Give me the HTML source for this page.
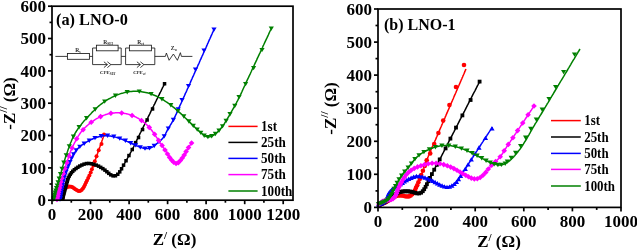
<!DOCTYPE html>
<html><head><meta charset="utf-8"><title>Nyquist plots</title>
<style>
html,body{margin:0;padding:0;background:#fff;}
svg{display:block;font-family:"Liberation Serif",serif;font-weight:bold;fill:#000;}
</style></head><body>
<svg width="637" height="250" viewBox="0 0 637 250">
<rect width="637" height="250" fill="#fff"/>
<path d="M62.5,199.0 L62.6,198.7 L62.6,198.3 L62.7,198.0 L62.7,197.7 L62.8,197.3 L62.8,197.0 L62.9,196.7 L63.0,196.3 L63.0,196.0 L63.1,195.7 L63.1,195.3 L63.2,195.0 L63.2,194.6 L63.3,194.3 L63.4,193.9 L63.4,193.6 L63.5,193.2 L63.5,192.9 L63.6,192.5 L63.6,192.2 L63.7,191.8 L63.8,191.4 L63.8,191.1 L63.9,190.7 L64.0,190.4 L64.1,190.1 L64.2,189.7 L64.4,189.4 L64.5,189.1 L64.7,188.9 L64.9,188.6 L65.1,188.4 L65.4,188.1 L65.7,187.9 L65.9,187.7 L66.2,187.6 L66.6,187.4 L66.9,187.3 L67.2,187.1 L67.5,187.0 L67.9,186.9 L68.2,186.8 L68.6,186.7 L68.9,186.6 L69.2,186.5 L69.6,186.5 L69.9,186.5 L70.2,186.5 L70.6,186.6 L70.9,186.6 L71.2,186.7 L71.6,186.8 L71.9,187.0 L72.2,187.1 L72.5,187.3 L72.8,187.4 L73.1,187.6 L73.4,187.8 L73.7,188.0 L74.0,188.2 L74.3,188.4 L74.6,188.6 L74.9,188.8 L75.1,189.0 L75.4,189.2 L75.7,189.5 L76.0,189.6 L76.2,189.8 L76.5,190.0 L76.8,190.2 L77.2,190.4 L77.5,190.5 L77.8,190.7 L78.1,190.8 L78.5,190.9 L78.8,191.0 L79.1,191.0 L79.5,191.0 L79.8,190.9 L80.1,190.8 L80.4,190.7 L80.7,190.5 L81.0,190.3 L81.3,190.1 L81.6,189.9 L81.9,189.6 L82.1,189.4 L82.4,189.1 L82.6,188.8 L82.8,188.6 L83.0,188.3 L83.2,188.0 L83.4,187.7 L83.6,187.4 L83.8,187.1 L84.0,186.8 L84.1,186.5 L84.3,186.2 L84.5,185.9 L84.6,185.6 L84.8,185.3 L84.9,185.0 L85.0,184.7 L85.2,184.4 L85.3,184.0 L85.5,183.7 L85.6,183.4 L85.7,183.1 L85.9,182.8 L86.0,182.5 L86.2,182.2 L86.3,181.8 L86.4,181.5 L86.6,181.2 L86.7,180.9 L86.9,180.6 L87.0,180.3 L87.2,180.0 L87.3,179.7 L87.5,179.4 L87.6,179.1 L87.8,178.7 L87.9,178.4 L88.1,178.1 L88.3,177.8 L88.4,177.5 L88.6,177.2 L88.7,176.9 L88.9,176.6 L89.0,176.3 L89.2,176.0 L89.3,175.6 L89.4,175.3 L89.6,175.0 L89.7,174.7 L89.9,174.4 L90.0,174.1 L90.2,173.8 L90.3,173.4 L90.4,173.1 L90.6,172.8 L90.7,172.5 L90.8,172.2 L91.0,171.9 L91.1,171.5 L91.2,171.2 L91.3,170.9 L91.5,170.6 L91.6,170.2 L91.7,169.9 L91.8,169.6 L92.0,169.3 L92.1,169.0 L92.2,168.6 L92.3,168.3 L92.4,168.0 L92.6,167.7 L92.7,167.3 L92.8,167.0 L92.9,166.7 L93.0,166.4 L93.1,166.0 L93.2,165.7 L93.4,165.4 L93.5,165.1 L93.6,164.7 L93.7,164.4 L93.8,164.1 L93.9,163.8 L94.0,163.4 L94.2,163.1 L94.3,162.8 L94.4,162.5 L94.5,162.1 L94.6,161.8 L94.7,161.5 L94.8,161.2 L95.0,160.8 L95.1,160.5 L95.2,160.2 L95.3,159.9 L95.4,159.5 L95.5,159.2 L95.6,158.9 L95.8,158.6 L95.9,158.2 L96.0,157.9 L96.1,157.6 L96.2,157.3 L96.3,156.9 L96.4,156.6 L96.6,156.3 L96.7,156.0 L96.8,155.6 L96.9,155.3 L97.0,155.0 L97.1,154.7 L97.2,154.3 L97.4,154.0 L97.5,153.7 L97.6,153.4 L97.7,153.0 L97.8,152.7 L97.9,152.4 L98.0,152.1 L98.2,151.7 L98.3,151.4 L98.4,151.1 L98.5,150.8 L98.6,150.4 L98.7,150.1 L98.8,149.8 L99.0,149.5 L99.1,149.1 L99.2,148.8 L99.3,148.5 L99.4,148.2 L99.5,147.8 L99.6,147.5 L99.8,147.2 L99.9,146.9 L100.0,146.5 L100.1,146.2 L100.2,145.9 L100.3,145.6 L100.4,145.2 L100.5,144.9 L100.7,144.6 L100.8,144.3 L100.9,143.9 L101.0,143.6 L101.1,143.3 L101.2,143.0 L101.3,142.6 L101.5,142.3 L101.6,142.0 L101.7,141.7 L101.8,141.3 L101.9,141.0 L102.0,140.7 L102.1,140.4 L102.3,140.0 L102.4,139.7 L102.5,139.4 L102.6,139.1 L102.7,138.7 L102.8,138.4 L102.9,138.1 L103.1,137.8 L103.2,137.4 L103.3,137.1 L103.4,136.8 L103.5,136.5 L103.6,136.1 L103.7,135.8 L103.9,135.5 L104.0,135.2 L104.1,134.8 L104.2,134.5" fill="none" stroke="#ff0000" stroke-width="1.5" stroke-linejoin="round"/>
<g><circle cx="62.5" cy="199.0" r="2.0" fill="#ff0000"/><circle cx="62.7" cy="197.8" r="2.0" fill="#ff0000"/><circle cx="62.9" cy="196.6" r="2.0" fill="#ff0000"/><circle cx="63.1" cy="195.4" r="2.0" fill="#ff0000"/><circle cx="63.3" cy="194.1" r="2.0" fill="#ff0000"/><circle cx="63.5" cy="192.8" r="2.0" fill="#ff0000"/><circle cx="63.7" cy="191.5" r="2.0" fill="#ff0000"/><circle cx="64.1" cy="190.2" r="2.0" fill="#ff0000"/><circle cx="64.6" cy="189.0" r="2.0" fill="#ff0000"/><circle cx="65.6" cy="188.0" r="2.0" fill="#ff0000"/><circle cx="66.8" cy="187.3" r="2.0" fill="#ff0000"/><circle cx="68.2" cy="186.8" r="2.0" fill="#ff0000"/><circle cx="69.7" cy="186.5" r="2.0" fill="#ff0000"/><circle cx="71.2" cy="186.7" r="2.0" fill="#ff0000"/><circle cx="72.6" cy="187.3" r="2.0" fill="#ff0000"/><circle cx="74.0" cy="188.2" r="2.0" fill="#ff0000"/><circle cx="75.3" cy="189.2" r="2.0" fill="#ff0000"/><circle cx="76.7" cy="190.1" r="2.0" fill="#ff0000"/><circle cx="78.3" cy="190.9" r="2.0" fill="#ff0000"/><circle cx="80.0" cy="190.9" r="2.0" fill="#ff0000"/><circle cx="81.6" cy="189.9" r="2.0" fill="#ff0000"/><circle cx="82.9" cy="188.4" r="2.0" fill="#ff0000"/><circle cx="84.0" cy="186.7" r="2.0" fill="#ff0000"/><circle cx="85.0" cy="184.7" r="2.0" fill="#ff0000"/><circle cx="86.0" cy="182.6" r="2.0" fill="#ff0000"/><circle cx="87.0" cy="180.4" r="2.0" fill="#ff0000"/><circle cx="88.2" cy="178.0" r="2.0" fill="#ff0000"/><circle cx="89.4" cy="175.4" r="2.0" fill="#ff0000"/><circle cx="90.7" cy="172.5" r="2.0" fill="#ff0000"/><circle cx="91.9" cy="169.3" r="2.0" fill="#ff0000"/><circle cx="93.3" cy="165.6" r="2.0" fill="#ff0000"/><circle cx="94.8" cy="161.3" r="2.0" fill="#ff0000"/><circle cx="96.5" cy="156.3" r="2.0" fill="#ff0000"/><circle cx="98.7" cy="150.3" r="2.0" fill="#ff0000"/><circle cx="104.0" cy="134.5" r="2.0" fill="#ff0000"/><circle cx="101.5" cy="144.0" r="2.0" fill="#ff0000"/></g>
<path d="M62.5,199.0 L62.7,198.3 L62.8,197.6 L63.0,196.9 L63.2,196.3 L63.3,195.6 L63.5,194.9 L63.7,194.2 L63.9,193.5 L64.0,192.8 L64.2,192.2 L64.4,191.5 L64.6,190.8 L64.8,190.1 L65.0,189.4 L65.2,188.8 L65.4,188.1 L65.6,187.4 L65.7,186.7 L65.9,186.1 L66.1,185.4 L66.3,184.7 L66.5,184.0 L66.7,183.3 L66.9,182.6 L67.1,182.0 L67.2,181.3 L67.4,180.6 L67.7,179.9 L67.9,179.3 L68.1,178.6 L68.4,177.9 L68.6,177.3 L68.9,176.6 L69.2,176.0 L69.6,175.4 L70.0,174.8 L70.3,174.2 L70.8,173.6 L71.2,173.0 L71.6,172.5 L72.1,172.0 L72.6,171.4 L73.1,170.9 L73.6,170.4 L74.1,170.0 L74.6,169.5 L75.2,169.1 L75.7,168.6 L76.3,168.2 L76.9,167.8 L77.5,167.4 L78.1,167.1 L78.7,166.7 L79.3,166.3 L79.9,166.0 L80.6,165.6 L81.2,165.3 L81.9,165.0 L82.5,164.7 L83.2,164.5 L83.8,164.2 L84.5,164.0 L85.2,163.8 L85.9,163.7 L86.6,163.6 L87.3,163.5 L88.0,163.4 L88.7,163.4 L89.4,163.5 L90.1,163.5 L90.8,163.6 L91.5,163.7 L92.2,163.9 L92.9,164.0 L93.5,164.2 L94.2,164.5 L94.9,164.7 L95.6,164.9 L96.3,165.2 L96.9,165.5 L97.6,165.8 L98.3,166.1 L98.9,166.4 L99.5,166.7 L100.2,167.0 L100.8,167.4 L101.4,167.7 L102.0,168.1 L102.6,168.5 L103.2,168.9 L103.8,169.3 L104.3,169.7 L104.9,170.1 L105.4,170.5 L106.0,171.0 L106.5,171.4 L107.0,171.9 L107.6,172.4 L108.1,172.8 L108.6,173.3 L109.2,173.7 L109.7,174.2 L110.3,174.6 L110.9,175.0 L111.6,175.3 L112.2,175.6 L112.9,175.8 L113.6,176.0 L114.3,176.0 L115.0,175.9 L115.7,175.7 L116.3,175.4 L116.9,175.0 L117.5,174.5 L118.0,174.0 L118.5,173.5 L119.0,172.9 L119.4,172.4 L119.8,171.8 L120.2,171.2 L120.6,170.6 L120.9,170.0 L121.3,169.4 L121.6,168.8 L121.9,168.1 L122.3,167.5 L122.6,166.9 L122.9,166.3 L123.3,165.7 L123.6,165.1 L123.9,164.4 L124.3,163.8 L124.6,163.2 L125.0,162.6 L125.3,162.0 L125.7,161.4 L126.0,160.7 L126.4,160.1 L126.7,159.5 L127.1,158.9 L127.4,158.3 L127.8,157.7 L128.1,157.1 L128.5,156.4 L128.8,155.8 L129.1,155.2 L129.5,154.6 L129.8,154.0 L130.2,153.4 L130.5,152.7 L130.9,152.1 L131.2,151.5 L131.5,150.9 L131.9,150.3 L132.2,149.6 L132.5,149.0 L132.8,148.4 L133.1,147.8 L133.5,147.1 L133.8,146.5 L134.1,145.9 L134.4,145.2 L134.7,144.6 L135.0,144.0 L135.3,143.3 L135.6,142.7 L135.9,142.1 L136.2,141.4 L136.5,140.8 L136.8,140.1 L137.2,139.5 L137.5,138.9 L137.8,138.2 L138.1,137.6 L138.4,137.0 L138.7,136.3 L139.0,135.7 L139.3,135.1 L139.6,134.4 L139.9,133.8 L140.2,133.2 L140.6,132.5 L140.9,131.9 L141.2,131.3 L141.5,130.6 L141.8,130.0 L142.1,129.4 L142.4,128.7 L142.7,128.1 L143.1,127.5 L143.4,126.8 L143.7,126.2 L144.0,125.6 L144.3,125.0 L144.6,124.3 L144.9,123.7 L145.2,123.1 L145.5,122.4 L145.9,121.8 L146.2,121.2 L146.5,120.5 L146.8,119.9 L147.1,119.3 L147.4,118.6 L147.7,118.0 L148.0,117.4 L148.3,116.7 L148.6,116.1 L149.0,115.5 L149.3,114.8 L149.6,114.2 L149.9,113.6 L150.2,112.9 L150.5,112.3 L150.8,111.7 L151.1,111.0 L151.4,110.4 L151.8,109.8 L152.1,109.1 L152.4,108.5 L152.7,107.9 L153.0,107.2 L153.3,106.6 L153.6,106.0 L153.9,105.3 L154.2,104.7 L154.6,104.1 L154.9,103.4 L155.2,102.8 L155.5,102.2 L155.8,101.5 L156.1,100.9 L156.4,100.3 L156.7,99.6 L157.0,99.0 L157.4,98.4 L157.7,97.7 L158.0,97.1 L158.3,96.5 L158.6,95.8 L158.9,95.2 L159.2,94.6 L159.5,93.9 L159.8,93.3 L160.1,92.7 L160.5,92.0 L160.8,91.4 L161.1,90.8 L161.4,90.1 L161.7,89.5 L162.0,88.9 L162.3,88.2 L162.6,87.6 L162.9,87.0 L163.3,86.3 L163.6,85.7 L163.9,85.1 L164.2,84.4 L164.5,83.8" fill="none" stroke="#000000" stroke-width="1.5" stroke-linejoin="round"/>
<g><rect x="60.8" y="197.2" width="3.5" height="3.5" fill="#000000"/><rect x="61.1" y="195.8" width="3.5" height="3.5" fill="#000000"/><rect x="61.5" y="194.3" width="3.5" height="3.5" fill="#000000"/><rect x="61.9" y="192.8" width="3.5" height="3.5" fill="#000000"/><rect x="62.3" y="191.2" width="3.5" height="3.5" fill="#000000"/><rect x="62.7" y="189.7" width="3.5" height="3.5" fill="#000000"/><rect x="63.1" y="188.1" width="3.5" height="3.5" fill="#000000"/><rect x="63.6" y="186.4" width="3.5" height="3.5" fill="#000000"/><rect x="64.0" y="184.8" width="3.5" height="3.5" fill="#000000"/><rect x="64.5" y="183.1" width="3.5" height="3.5" fill="#000000"/><rect x="65.0" y="181.4" width="3.5" height="3.5" fill="#000000"/><rect x="65.5" y="179.6" width="3.5" height="3.5" fill="#000000"/><rect x="66.0" y="177.9" width="3.5" height="3.5" fill="#000000"/><rect x="66.6" y="176.1" width="3.5" height="3.5" fill="#000000"/><rect x="67.5" y="174.3" width="3.5" height="3.5" fill="#000000"/><rect x="68.5" y="172.6" width="3.5" height="3.5" fill="#000000"/><rect x="69.7" y="171.0" width="3.5" height="3.5" fill="#000000"/><rect x="71.0" y="169.5" width="3.5" height="3.5" fill="#000000"/><rect x="72.6" y="168.0" width="3.5" height="3.5" fill="#000000"/><rect x="74.3" y="166.7" width="3.5" height="3.5" fill="#000000"/><rect x="76.1" y="165.5" width="3.5" height="3.5" fill="#000000"/><rect x="78.0" y="164.3" width="3.5" height="3.5" fill="#000000"/><rect x="80.1" y="163.3" width="3.5" height="3.5" fill="#000000"/><rect x="82.3" y="162.4" width="3.5" height="3.5" fill="#000000"/><rect x="84.7" y="161.8" width="3.5" height="3.5" fill="#000000"/><rect x="87.2" y="161.7" width="3.5" height="3.5" fill="#000000"/><rect x="89.7" y="162.0" width="3.5" height="3.5" fill="#000000"/><rect x="92.1" y="162.6" width="3.5" height="3.5" fill="#000000"/><rect x="94.5" y="163.4" width="3.5" height="3.5" fill="#000000"/><rect x="96.8" y="164.4" width="3.5" height="3.5" fill="#000000"/><rect x="99.0" y="165.6" width="3.5" height="3.5" fill="#000000"/><rect x="101.1" y="166.9" width="3.5" height="3.5" fill="#000000"/><rect x="103.2" y="168.4" width="3.5" height="3.5" fill="#000000"/><rect x="105.1" y="170.0" width="3.5" height="3.5" fill="#000000"/><rect x="107.0" y="171.6" width="3.5" height="3.5" fill="#000000"/><rect x="109.0" y="173.1" width="3.5" height="3.5" fill="#000000"/><rect x="111.3" y="174.1" width="3.5" height="3.5" fill="#000000"/><rect x="113.7" y="174.0" width="3.5" height="3.5" fill="#000000"/><rect x="116.0" y="172.5" width="3.5" height="3.5" fill="#000000"/><rect x="118.0" y="170.1" width="3.5" height="3.5" fill="#000000"/><rect x="119.8" y="167.0" width="3.5" height="3.5" fill="#000000"/><rect x="121.8" y="163.4" width="3.5" height="3.5" fill="#000000"/><rect x="124.3" y="159.0" width="3.5" height="3.5" fill="#000000"/><rect x="127.2" y="153.8" width="3.5" height="3.5" fill="#000000"/><rect x="130.5" y="147.8" width="3.5" height="3.5" fill="#000000"/><rect x="133.9" y="140.9" width="3.5" height="3.5" fill="#000000"/><rect x="162.8" y="82.0" width="3.5" height="3.5" fill="#000000"/><rect x="150.8" y="107.2" width="3.5" height="3.5" fill="#000000"/><rect x="145.4" y="118.2" width="3.5" height="3.5" fill="#000000"/><rect x="140.8" y="127.8" width="3.5" height="3.5" fill="#000000"/><rect x="136.8" y="135.8" width="3.5" height="3.5" fill="#000000"/></g>
<path d="M60.0,199.5 L60.2,198.5 L60.3,197.5 L60.5,196.4 L60.7,195.4 L60.9,194.4 L61.0,193.4 L61.2,192.3 L61.4,191.3 L61.6,190.3 L61.8,189.3 L62.0,188.3 L62.1,187.2 L62.3,186.2 L62.5,185.2 L62.7,184.2 L62.9,183.1 L63.2,182.1 L63.4,181.1 L63.6,180.1 L63.9,179.1 L64.1,178.1 L64.4,177.1 L64.7,176.1 L65.0,175.1 L65.3,174.1 L65.6,173.1 L65.9,172.2 L66.3,171.2 L66.6,170.2 L67.0,169.2 L67.4,168.3 L67.8,167.3 L68.2,166.4 L68.6,165.4 L69.0,164.4 L69.4,163.5 L69.8,162.5 L70.2,161.5 L70.6,160.6 L71.0,159.6 L71.5,158.6 L71.9,157.7 L72.3,156.7 L72.8,155.8 L73.3,154.9 L73.8,154.0 L74.3,153.1 L74.9,152.2 L75.5,151.4 L76.1,150.5 L76.7,149.7 L77.4,149.0 L78.1,148.2 L78.9,147.5 L79.7,146.8 L80.5,146.2 L81.3,145.5 L82.1,144.9 L83.0,144.3 L83.9,143.7 L84.8,143.2 L85.6,142.6 L86.5,142.1 L87.4,141.5 L88.4,141.0 L89.3,140.6 L90.2,140.1 L91.1,139.6 L92.1,139.2 L93.0,138.8 L94.0,138.4 L95.0,138.0 L95.9,137.7 L96.9,137.3 L97.9,137.0 L98.9,136.7 L99.9,136.4 L101.0,136.2 L102.0,136.0 L103.0,135.9 L104.0,135.8 L105.1,135.7 L106.1,135.7 L107.1,135.7 L108.2,135.8 L109.2,135.9 L110.3,136.0 L111.3,136.2 L112.3,136.4 L113.3,136.6 L114.3,136.8 L115.4,137.1 L116.4,137.4 L117.4,137.7 L118.4,138.0 L119.3,138.3 L120.3,138.7 L121.3,139.0 L122.3,139.4 L123.2,139.8 L124.2,140.2 L125.1,140.6 L126.1,141.0 L127.0,141.4 L128.0,141.8 L128.9,142.2 L129.9,142.7 L130.8,143.1 L131.8,143.5 L132.7,144.0 L133.7,144.4 L134.6,144.8 L135.6,145.3 L136.5,145.7 L137.5,146.1 L138.4,146.5 L139.4,146.9 L140.3,147.3 L141.3,147.6 L142.3,147.9 L143.3,148.2 L144.4,148.4 L145.4,148.5 L146.4,148.6 L147.5,148.6 L148.5,148.5 L149.5,148.2 L150.5,147.9 L151.5,147.5 L152.4,147.1 L153.3,146.5 L154.1,145.9 L154.9,145.3 L155.7,144.6 L156.5,143.9 L157.3,143.2 L158.1,142.5 L159.0,141.9 L159.8,141.2 L160.6,140.5 L161.3,139.8 L162.0,139.1 L162.7,138.3 L163.4,137.5 L163.9,136.7 L164.5,135.8 L165.0,134.9 L165.5,134.0 L165.9,133.0 L166.4,132.1 L166.9,131.2 L167.3,130.2 L167.8,129.3 L168.4,128.4 L168.9,127.5 L169.4,126.6 L170.0,125.7 L170.5,124.9 L171.1,124.0 L171.6,123.1 L172.1,122.2 L172.6,121.3 L173.1,120.4 L173.6,119.5 L174.1,118.5 L174.5,117.6 L175.0,116.7 L175.4,115.7 L175.8,114.8 L176.3,113.8 L176.7,112.9 L177.1,111.9 L177.5,111.0 L178.0,110.0 L178.4,109.1 L178.8,108.1 L179.2,107.2 L179.7,106.2 L180.1,105.3 L180.5,104.4 L181.0,103.4 L181.4,102.5 L181.8,101.5 L182.2,100.6 L182.7,99.6 L183.1,98.7 L183.5,97.7 L183.9,96.8 L184.4,95.8 L184.8,94.9 L185.2,93.9 L185.6,93.0 L186.1,92.1 L186.5,91.1 L186.9,90.2 L187.3,89.2 L187.7,88.3 L188.2,87.3 L188.6,86.4 L189.0,85.4 L189.4,84.5 L189.9,83.5 L190.3,82.6 L190.7,81.6 L191.1,80.7 L191.6,79.7 L192.0,78.8 L192.4,77.8 L192.8,76.9 L193.3,75.9 L193.7,75.0 L194.1,74.0 L194.5,73.1 L194.9,72.1 L195.4,71.2 L195.8,70.3 L196.2,69.3 L196.6,68.4 L197.1,67.4 L197.5,66.5 L197.9,65.5 L198.3,64.6 L198.8,63.6 L199.2,62.7 L199.6,61.7 L200.0,60.8 L200.4,59.8 L200.9,58.9 L201.3,57.9 L201.7,57.0 L202.1,56.0 L202.6,55.1 L203.0,54.1 L203.4,53.2 L203.8,52.2 L204.3,51.3 L204.7,50.3 L205.1,49.4 L205.5,48.5 L206.0,47.5 L206.4,46.6 L206.8,45.6 L207.2,44.7 L207.6,43.7 L208.1,42.8 L208.5,41.8 L208.9,40.9 L209.3,39.9 L209.8,39.0 L210.2,38.0 L210.6,37.1 L211.0,36.1 L211.5,35.2 L211.9,34.2 L212.3,33.3 L212.7,32.3 L213.2,31.4 L213.6,30.4 L214.0,29.5" fill="none" stroke="#0000ff" stroke-width="1.5" stroke-linejoin="round"/>
<g><path d="M57.4,197.4 L62.6,197.4 L60.0,201.8Z" fill="#0000ff"/><path d="M57.7,195.9 L62.9,195.9 L60.3,200.3Z" fill="#0000ff"/><path d="M57.9,194.3 L63.1,194.3 L60.5,198.7Z" fill="#0000ff"/><path d="M58.2,192.6 L63.4,192.6 L60.8,197.1Z" fill="#0000ff"/><path d="M58.5,190.9 L63.7,190.9 L61.1,195.3Z" fill="#0000ff"/><path d="M58.8,189.1 L64.0,189.1 L61.4,193.5Z" fill="#0000ff"/><path d="M59.2,187.1 L64.4,187.1 L61.8,191.5Z" fill="#0000ff"/><path d="M59.6,185.1 L64.8,185.1 L62.2,189.5Z" fill="#0000ff"/><path d="M60.0,182.9 L65.2,182.9 L62.6,187.3Z" fill="#0000ff"/><path d="M60.4,180.6 L65.6,180.6 L63.0,185.0Z" fill="#0000ff"/><path d="M61.0,178.2 L66.2,178.2 L63.6,182.6Z" fill="#0000ff"/><path d="M61.7,175.5 L66.9,175.5 L64.3,179.9Z" fill="#0000ff"/><path d="M62.5,172.7 L67.7,172.7 L65.1,177.1Z" fill="#0000ff"/><path d="M63.5,169.8 L68.7,169.8 L66.1,174.2Z" fill="#0000ff"/><path d="M64.6,166.6 L69.8,166.6 L67.2,171.1Z" fill="#0000ff"/><path d="M65.9,163.4 L71.1,163.4 L68.5,167.8Z" fill="#0000ff"/><path d="M67.4,159.9 L72.6,159.9 L70.0,164.3Z" fill="#0000ff"/><path d="M69.0,156.2 L74.2,156.2 L71.6,160.6Z" fill="#0000ff"/><path d="M71.0,152.3 L76.2,152.3 L73.6,156.7Z" fill="#0000ff"/><path d="M73.6,148.3 L78.8,148.3 L76.2,152.7Z" fill="#0000ff"/><path d="M77.2,144.7 L82.4,144.7 L79.8,149.1Z" fill="#0000ff"/><path d="M81.6,141.4 L86.8,141.4 L84.2,145.9Z" fill="#0000ff"/><path d="M86.7,138.5 L91.9,138.5 L89.3,142.9Z" fill="#0000ff"/><path d="M92.4,135.9 L97.6,135.9 L95.0,140.3Z" fill="#0000ff"/><path d="M98.6,134.1 L103.8,134.1 L101.2,138.5Z" fill="#0000ff"/><path d="M105.0,133.6 L110.2,133.6 L107.6,138.1Z" fill="#0000ff"/><path d="M111.2,134.6 L116.4,134.6 L113.8,139.0Z" fill="#0000ff"/><path d="M117.1,136.4 L122.3,136.4 L119.7,140.8Z" fill="#0000ff"/><path d="M122.8,138.6 L128.0,138.6 L125.4,143.0Z" fill="#0000ff"/><path d="M128.1,140.9 L133.3,140.9 L130.7,145.4Z" fill="#0000ff"/><path d="M133.0,143.2 L138.2,143.2 L135.6,147.6Z" fill="#0000ff"/><path d="M137.7,145.2 L142.9,145.2 L140.3,149.6Z" fill="#0000ff"/><path d="M142.4,146.4 L147.6,146.4 L145.0,150.8Z" fill="#0000ff"/><path d="M147.0,146.1 L152.2,146.1 L149.6,150.6Z" fill="#0000ff"/><path d="M151.6,143.8 L156.8,143.8 L154.2,148.2Z" fill="#0000ff"/><path d="M156.4,139.8 L161.6,139.8 L159.0,144.2Z" fill="#0000ff"/><path d="M161.6,134.2 L166.8,134.2 L164.2,138.6Z" fill="#0000ff"/><path d="M165.7,126.4 L170.9,126.4 L168.3,130.8Z" fill="#0000ff"/><path d="M170.8,117.8 L176.0,117.8 L173.4,122.2Z" fill="#0000ff"/><path d="M175.6,107.3 L180.8,107.3 L178.2,111.7Z" fill="#0000ff"/><path d="M211.4,27.4 L216.6,27.4 L214.0,31.8Z" fill="#0000ff"/><path d="M201.4,48.4 L206.6,48.4 L204.0,52.8Z" fill="#0000ff"/><path d="M192.9,67.4 L198.1,67.4 L195.5,71.8Z" fill="#0000ff"/><path d="M185.9,83.9 L191.1,83.9 L188.5,88.3Z" fill="#0000ff"/><path d="M179.4,97.9 L184.6,97.9 L182.0,102.3Z" fill="#0000ff"/></g>
<path d="M57.0,199.5 L57.2,198.7 L57.4,197.8 L57.5,197.0 L57.7,196.1 L57.9,195.3 L58.1,194.5 L58.3,193.6 L58.4,192.8 L58.6,192.0 L58.8,191.1 L59.0,190.3 L59.2,189.4 L59.4,188.6 L59.6,187.8 L59.7,186.9 L59.9,186.1 L60.1,185.3 L60.3,184.4 L60.5,183.6 L60.7,182.8 L60.9,181.9 L61.1,181.1 L61.4,180.3 L61.6,179.4 L61.8,178.6 L62.0,177.8 L62.2,177.0 L62.5,176.1 L62.7,175.3 L63.0,174.5 L63.2,173.7 L63.5,172.8 L63.7,172.0 L64.0,171.2 L64.2,170.4 L64.5,169.6 L64.8,168.8 L65.0,167.9 L65.3,167.1 L65.6,166.3 L65.8,165.5 L66.1,164.7 L66.4,163.9 L66.6,163.1 L66.9,162.2 L67.2,161.4 L67.5,160.6 L67.7,159.8 L68.0,159.0 L68.3,158.2 L68.5,157.4 L68.8,156.5 L69.1,155.7 L69.4,154.9 L69.6,154.1 L69.9,153.3 L70.2,152.5 L70.5,151.7 L70.8,150.9 L71.2,150.1 L71.5,149.3 L71.8,148.5 L72.2,147.7 L72.5,147.0 L72.9,146.2 L73.3,145.4 L73.6,144.6 L74.0,143.9 L74.4,143.1 L74.8,142.3 L75.2,141.6 L75.6,140.8 L76.0,140.1 L76.4,139.3 L76.8,138.6 L77.3,137.8 L77.7,137.1 L78.1,136.3 L78.6,135.6 L79.1,134.9 L79.5,134.2 L80.0,133.5 L80.5,132.8 L81.0,132.1 L81.6,131.4 L82.1,130.8 L82.7,130.1 L83.2,129.5 L83.8,128.8 L84.4,128.2 L85.0,127.6 L85.7,127.0 L86.3,126.4 L86.9,125.9 L87.6,125.3 L88.2,124.7 L88.9,124.2 L89.5,123.6 L90.2,123.1 L90.9,122.6 L91.6,122.1 L92.3,121.6 L93.0,121.1 L93.7,120.6 L94.4,120.1 L95.1,119.6 L95.8,119.2 L96.6,118.7 L97.3,118.3 L98.1,117.9 L98.8,117.5 L99.6,117.1 L100.4,116.7 L101.2,116.4 L101.9,116.0 L102.7,115.7 L103.5,115.4 L104.3,115.1 L105.2,114.8 L106.0,114.5 L106.8,114.3 L107.6,114.0 L108.5,113.8 L109.3,113.6 L110.1,113.5 L111.0,113.3 L111.8,113.2 L112.7,113.1 L113.5,113.0 L114.4,112.9 L115.3,112.8 L116.1,112.8 L117.0,112.8 L117.8,112.8 L118.7,112.8 L119.6,112.8 L120.4,112.9 L121.3,113.0 L122.1,113.0 L123.0,113.1 L123.8,113.3 L124.7,113.4 L125.5,113.6 L126.4,113.7 L127.2,113.9 L128.0,114.1 L128.9,114.4 L129.7,114.6 L130.5,114.9 L131.3,115.2 L132.1,115.5 L132.9,115.8 L133.7,116.1 L134.5,116.5 L135.3,116.8 L136.1,117.2 L136.8,117.6 L137.6,118.0 L138.3,118.4 L139.1,118.9 L139.8,119.3 L140.5,119.8 L141.2,120.3 L141.9,120.7 L142.6,121.3 L143.3,121.8 L144.0,122.3 L144.7,122.9 L145.3,123.4 L145.9,124.0 L146.6,124.6 L147.2,125.2 L147.8,125.8 L148.4,126.4 L149.0,127.0 L149.5,127.7 L150.1,128.3 L150.6,129.0 L151.2,129.7 L151.7,130.3 L152.2,131.0 L152.7,131.7 L153.2,132.4 L153.7,133.1 L154.2,133.8 L154.7,134.5 L155.2,135.2 L155.7,136.0 L156.1,136.7 L156.6,137.4 L157.1,138.1 L157.6,138.8 L158.0,139.5 L158.5,140.2 L159.0,141.0 L159.4,141.7 L159.9,142.4 L160.4,143.1 L160.9,143.8 L161.4,144.5 L161.8,145.2 L162.3,145.9 L162.8,146.6 L163.3,147.4 L163.8,148.1 L164.2,148.8 L164.7,149.5 L165.1,150.2 L165.6,151.0 L166.1,151.7 L166.5,152.4 L167.0,153.2 L167.4,153.9 L167.9,154.6 L168.3,155.4 L168.8,156.1 L169.2,156.8 L169.7,157.5 L170.2,158.2 L170.6,158.9 L171.1,159.6 L171.7,160.2 L172.2,160.9 L172.8,161.5 L173.5,162.1 L174.2,162.7 L175.0,163.2 L175.8,163.5 L176.6,163.6 L177.4,163.4 L178.1,162.9 L178.8,162.2 L179.4,161.6 L180.0,160.9 L180.6,160.3 L181.1,159.6 L181.7,158.9 L182.1,158.3 L182.6,157.6 L183.1,156.9 L183.5,156.2 L184.0,155.4 L184.4,154.7 L184.8,153.9 L185.2,153.2 L185.6,152.4 L186.0,151.7 L186.5,150.9 L186.9,150.2 L187.3,149.4 L187.8,148.7 L188.2,148.0 L188.7,147.2 L189.2,146.5 L189.7,145.8 L190.1,145.1 L190.6,144.4 L191.1,143.7 L191.6,143.0" fill="none" stroke="#ff00ff" stroke-width="1.5" stroke-linejoin="round"/>
<g><path d="M54.2,199.5 L57.0,196.7 L59.8,199.5 L57.0,202.3Z" fill="#ff00ff"/><path d="M54.5,198.0 L57.3,195.2 L60.1,198.0 L57.3,200.8Z" fill="#ff00ff"/><path d="M54.9,196.3 L57.7,193.5 L60.5,196.3 L57.7,199.1Z" fill="#ff00ff"/><path d="M55.3,194.5 L58.1,191.7 L60.9,194.5 L58.1,197.3Z" fill="#ff00ff"/><path d="M55.7,192.5 L58.5,189.7 L61.3,192.5 L58.5,195.3Z" fill="#ff00ff"/><path d="M56.2,190.3 L59.0,187.5 L61.8,190.3 L59.0,193.1Z" fill="#ff00ff"/><path d="M56.7,187.9 L59.5,185.1 L62.3,187.9 L59.5,190.7Z" fill="#ff00ff"/><path d="M57.4,185.2 L60.2,182.4 L63.0,185.2 L60.2,188.0Z" fill="#ff00ff"/><path d="M58.1,182.0 L60.9,179.2 L63.7,182.0 L60.9,184.8Z" fill="#ff00ff"/><path d="M59.1,178.3 L61.9,175.5 L64.7,178.3 L61.9,181.1Z" fill="#ff00ff"/><path d="M60.4,173.8 L63.2,171.0 L66.0,173.8 L63.2,176.6Z" fill="#ff00ff"/><path d="M62.0,168.6 L64.8,165.8 L67.6,168.6 L64.8,171.4Z" fill="#ff00ff"/><path d="M64.0,162.7 L66.8,159.9 L69.6,162.7 L66.8,165.5Z" fill="#ff00ff"/><path d="M66.2,155.9 L69.0,153.1 L71.8,155.9 L69.0,158.7Z" fill="#ff00ff"/><path d="M69.3,148.0 L72.1,145.2 L74.9,148.0 L72.1,150.8Z" fill="#ff00ff"/><path d="M73.9,138.7 L76.7,135.9 L79.5,138.7 L76.7,141.5Z" fill="#ff00ff"/><path d="M80.3,129.7 L83.1,126.9 L85.9,129.7 L83.1,132.5Z" fill="#ff00ff"/><path d="M88.4,122.3 L91.2,119.5 L94.0,122.3 L91.2,125.1Z" fill="#ff00ff"/><path d="M97.8,116.6 L100.6,113.8 L103.4,116.6 L100.6,119.4Z" fill="#ff00ff"/><path d="M108.1,113.3 L110.9,110.5 L113.7,113.3 L110.9,116.1Z" fill="#ff00ff"/><path d="M118.9,113.0 L121.7,110.2 L124.5,113.0 L121.7,115.8Z" fill="#ff00ff"/><path d="M129.3,115.5 L132.1,112.7 L134.9,115.5 L132.1,118.3Z" fill="#ff00ff"/><path d="M138.7,120.5 L141.5,117.7 L144.3,120.5 L141.5,123.3Z" fill="#ff00ff"/><path d="M146.5,127.4 L149.3,124.6 L152.1,127.4 L149.3,130.2Z" fill="#ff00ff"/><path d="M151.8,134.3 L154.6,131.5 L157.4,134.3 L154.6,137.1Z" fill="#ff00ff"/><path d="M155.8,140.4 L158.6,137.6 L161.4,140.4 L158.6,143.2Z" fill="#ff00ff"/><path d="M159.3,145.5 L162.1,142.7 L164.9,145.5 L162.1,148.3Z" fill="#ff00ff"/><path d="M162.2,150.0 L165.0,147.2 L167.8,150.0 L165.0,152.8Z" fill="#ff00ff"/><path d="M164.7,154.0 L167.5,151.2 L170.3,154.0 L167.5,156.8Z" fill="#ff00ff"/><path d="M166.8,157.4 L169.6,154.6 L172.4,157.4 L169.6,160.2Z" fill="#ff00ff"/><path d="M168.8,160.1 L171.6,157.3 L174.4,160.1 L171.6,162.9Z" fill="#ff00ff"/><path d="M170.9,162.3 L173.7,159.5 L176.5,162.3 L173.7,165.1Z" fill="#ff00ff"/><path d="M173.3,163.5 L176.1,160.7 L178.9,163.5 L176.1,166.3Z" fill="#ff00ff"/><path d="M175.6,162.6 L178.4,159.8 L181.2,162.6 L178.4,165.4Z" fill="#ff00ff"/><path d="M177.6,160.5 L180.4,157.7 L183.2,160.5 L180.4,163.3Z" fill="#ff00ff"/><path d="M179.5,158.0 L182.3,155.2 L185.1,158.0 L182.3,160.8Z" fill="#ff00ff"/><path d="M181.4,155.1 L184.2,152.3 L187.0,155.1 L184.2,157.9Z" fill="#ff00ff"/><path d="M183.3,151.6 L186.1,148.8 L188.9,151.6 L186.1,154.4Z" fill="#ff00ff"/><path d="M185.7,147.6 L188.5,144.8 L191.3,147.6 L188.5,150.4Z" fill="#ff00ff"/><path d="M188.8,143.0 L191.6,140.2 L194.4,143.0 L191.6,145.8Z" fill="#ff00ff"/></g>
<path d="M53.5,199.5 L53.8,198.1 L54.2,196.8 L54.5,195.4 L54.9,194.1 L55.2,192.7 L55.6,191.4 L55.9,190.0 L56.3,188.7 L56.7,187.3 L57.1,186.0 L57.5,184.7 L57.8,183.3 L58.2,182.0 L58.6,180.6 L59.0,179.3 L59.4,178.0 L59.8,176.6 L60.2,175.3 L60.6,173.9 L61.0,172.6 L61.4,171.2 L61.7,169.9 L62.1,168.6 L62.5,167.2 L62.9,165.9 L63.3,164.5 L63.6,163.2 L64.0,161.8 L64.5,160.5 L64.9,159.2 L65.3,157.9 L65.7,156.5 L66.2,155.2 L66.6,153.9 L67.1,152.6 L67.6,151.2 L68.0,149.9 L68.5,148.6 L69.0,147.3 L69.4,146.0 L69.9,144.7 L70.4,143.3 L71.0,142.0 L71.5,140.7 L72.0,139.5 L72.6,138.2 L73.2,136.9 L73.8,135.7 L74.5,134.4 L75.2,133.2 L75.9,132.0 L76.6,130.8 L77.4,129.7 L78.2,128.5 L79.0,127.4 L79.8,126.3 L80.7,125.2 L81.5,124.1 L82.4,123.0 L83.3,121.9 L84.2,120.8 L85.2,119.8 L86.1,118.8 L87.0,117.7 L88.0,116.7 L88.9,115.7 L89.9,114.7 L90.9,113.7 L91.8,112.6 L92.8,111.6 L93.8,110.7 L94.8,109.7 L95.8,108.7 L96.8,107.8 L97.9,106.8 L98.9,105.9 L100.0,105.0 L101.1,104.1 L102.2,103.3 L103.3,102.5 L104.5,101.7 L105.6,100.9 L106.8,100.2 L108.0,99.4 L109.2,98.7 L110.5,98.1 L111.7,97.4 L112.9,96.8 L114.2,96.2 L115.5,95.6 L116.8,95.1 L118.1,94.6 L119.4,94.1 L120.7,93.6 L122.1,93.2 L123.4,92.9 L124.8,92.5 L126.1,92.2 L127.5,92.0 L128.9,91.7 L130.3,91.6 L131.7,91.4 L133.1,91.3 L134.5,91.3 L135.9,91.3 L137.3,91.3 L138.7,91.4 L140.1,91.5 L141.5,91.7 L142.8,91.9 L144.2,92.2 L145.6,92.5 L147.0,92.8 L148.3,93.1 L149.7,93.5 L151.0,94.0 L152.3,94.5 L153.6,95.0 L154.9,95.5 L156.2,96.0 L157.5,96.6 L158.7,97.3 L159.9,97.9 L161.2,98.6 L162.4,99.3 L163.6,100.0 L164.7,100.8 L165.9,101.6 L167.1,102.3 L168.2,103.2 L169.3,104.0 L170.4,104.8 L171.5,105.7 L172.6,106.6 L173.7,107.4 L174.8,108.3 L175.8,109.2 L176.9,110.2 L178.0,111.1 L179.0,112.0 L180.0,112.9 L181.1,113.9 L182.1,114.8 L183.1,115.8 L184.1,116.7 L185.1,117.7 L186.2,118.7 L187.1,119.6 L188.1,120.6 L189.1,121.6 L190.1,122.6 L191.1,123.6 L192.1,124.6 L193.1,125.6 L194.1,126.5 L195.1,127.5 L196.1,128.4 L197.1,129.3 L198.1,130.3 L199.2,131.2 L200.3,132.2 L201.4,133.2 L202.5,134.2 L203.7,135.1 L204.9,135.9 L206.1,136.5 L207.3,136.9 L208.6,137.0 L209.9,136.8 L211.2,136.4 L212.5,135.8 L213.8,135.1 L215.0,134.2 L216.2,133.2 L217.3,132.3 L218.4,131.2 L219.4,130.2 L220.3,129.1 L221.2,128.1 L222.0,127.0 L222.9,125.8 L223.6,124.7 L224.4,123.6 L225.1,122.4 L225.9,121.2 L226.6,120.1 L227.3,118.9 L228.0,117.7 L228.7,116.5 L229.4,115.3 L230.1,114.1 L230.8,112.9 L231.5,111.6 L232.2,110.4 L232.9,109.2 L233.6,108.0 L234.3,106.7 L234.9,105.5 L235.6,104.3 L236.3,103.1 L236.9,101.8 L237.6,100.6 L238.2,99.4 L238.8,98.1 L239.5,96.9 L240.1,95.6 L240.7,94.4 L241.3,93.1 L241.9,91.8 L242.4,90.6 L243.0,89.3 L243.6,88.0 L244.2,86.7 L244.8,85.5 L245.4,84.2 L245.9,82.9 L246.5,81.7 L247.1,80.4 L247.7,79.1 L248.3,77.9 L248.9,76.6 L249.5,75.3 L250.1,74.1 L250.7,72.8 L251.3,71.5 L251.8,70.3 L252.4,69.0 L253.0,67.7 L253.6,66.5 L254.2,65.2 L254.8,63.9 L255.4,62.7 L256.0,61.4 L256.6,60.1 L257.1,58.9 L257.7,57.6 L258.3,56.4 L258.9,55.1 L259.5,53.8 L260.1,52.6 L260.7,51.3 L261.3,50.0 L261.9,48.8 L262.5,47.5 L263.0,46.2 L263.6,45.0 L264.2,43.7 L264.8,42.4 L265.4,41.2 L266.0,39.9 L266.6,38.6 L267.2,37.4 L267.8,36.1 L268.4,34.8 L268.9,33.6 L269.5,32.3 L270.1,31.0 L270.7,29.8 L271.3,28.5" fill="none" stroke="#008000" stroke-width="1.5" stroke-linejoin="round"/>
<g><path d="M50.9,197.4 L56.1,197.4 L53.5,201.8Z" fill="#008000"/><path d="M51.3,195.9 L56.5,195.9 L53.9,200.3Z" fill="#008000"/><path d="M51.7,194.3 L56.9,194.3 L54.3,198.7Z" fill="#008000"/><path d="M52.1,192.5 L57.3,192.5 L54.7,196.9Z" fill="#008000"/><path d="M52.6,190.6 L57.8,190.6 L55.2,195.0Z" fill="#008000"/><path d="M53.2,188.5 L58.4,188.5 L55.8,192.9Z" fill="#008000"/><path d="M53.9,186.1 L59.1,186.1 L56.5,190.5Z" fill="#008000"/><path d="M54.6,183.4 L59.8,183.4 L57.2,187.8Z" fill="#008000"/><path d="M55.5,180.3 L60.7,180.3 L58.1,184.7Z" fill="#008000"/><path d="M56.6,176.6 L61.8,176.6 L59.2,181.0Z" fill="#008000"/><path d="M57.9,172.1 L63.1,172.1 L60.5,176.5Z" fill="#008000"/><path d="M59.4,166.8 L64.6,166.8 L62.0,171.2Z" fill="#008000"/><path d="M61.2,160.6 L66.4,160.6 L63.8,165.0Z" fill="#008000"/><path d="M63.6,153.2 L68.8,153.2 L66.2,157.6Z" fill="#008000"/><path d="M66.7,144.2 L71.9,144.2 L69.3,148.6Z" fill="#008000"/><path d="M70.8,134.5 L76.0,134.5 L73.4,139.0Z" fill="#008000"/><path d="M76.5,125.1 L81.7,125.1 L79.1,129.5Z" fill="#008000"/><path d="M84.0,116.1 L89.2,116.1 L86.6,120.5Z" fill="#008000"/><path d="M92.6,107.2 L97.8,107.2 L95.2,111.7Z" fill="#008000"/><path d="M102.1,99.4 L107.3,99.4 L104.7,103.8Z" fill="#008000"/><path d="M112.9,93.5 L118.1,93.5 L115.5,97.9Z" fill="#008000"/><path d="M124.6,89.9 L129.8,89.9 L127.2,94.4Z" fill="#008000"/><path d="M136.7,89.4 L141.9,89.4 L139.3,93.8Z" fill="#008000"/><path d="M148.5,91.9 L153.7,91.9 L151.1,96.3Z" fill="#008000"/><path d="M159.3,97.0 L164.5,97.0 L161.9,101.4Z" fill="#008000"/><path d="M168.2,103.1 L173.4,103.1 L170.8,107.5Z" fill="#008000"/><path d="M175.3,108.9 L180.5,108.9 L177.9,113.4Z" fill="#008000"/><path d="M181.2,114.3 L186.4,114.3 L183.8,118.8Z" fill="#008000"/><path d="M186.3,119.3 L191.5,119.3 L188.9,123.7Z" fill="#008000"/><path d="M190.7,123.7 L195.9,123.7 L193.3,128.1Z" fill="#008000"/><path d="M194.6,127.4 L199.8,127.4 L197.2,131.8Z" fill="#008000"/><path d="M198.2,130.7 L203.4,130.7 L200.8,135.1Z" fill="#008000"/><path d="M201.6,133.4 L206.8,133.4 L204.2,137.9Z" fill="#008000"/><path d="M205.3,134.9 L210.5,134.9 L207.9,139.3Z" fill="#008000"/><path d="M209.1,134.1 L214.3,134.1 L211.7,138.5Z" fill="#008000"/><path d="M212.8,131.8 L218.0,131.8 L215.4,136.2Z" fill="#008000"/><path d="M216.4,128.5 L221.6,128.5 L219.0,132.9Z" fill="#008000"/><path d="M219.9,124.2 L225.1,124.2 L222.5,128.6Z" fill="#008000"/><path d="M223.5,118.8 L228.7,118.8 L226.1,123.2Z" fill="#008000"/><path d="M227.4,112.1 L232.6,112.1 L230.0,116.5Z" fill="#008000"/><path d="M232.2,103.7 L237.4,103.7 L234.8,108.2Z" fill="#008000"/><path d="M268.7,26.4 L273.9,26.4 L271.3,30.8Z" fill="#008000"/><path d="M259.4,47.9 L264.6,47.9 L262.0,52.3Z" fill="#008000"/><path d="M251.0,65.9 L256.2,65.9 L253.6,70.3Z" fill="#008000"/><path d="M243.0,81.9 L248.2,81.9 L245.6,86.3Z" fill="#008000"/><path d="M236.4,94.9 L241.6,94.9 L239.0,99.3Z" fill="#008000"/></g>
<path d="M379.0,205.0 L379.6,204.8 L380.2,204.5 L380.9,204.3 L381.5,204.0 L382.1,203.8 L382.7,203.5 L383.3,203.3 L383.9,203.0 L384.6,202.7 L385.1,202.4 L385.7,202.1 L386.3,201.8 L386.9,201.5 L387.5,201.2 L388.1,200.8 L388.6,200.5 L389.2,200.2 L389.8,199.8 L390.3,199.4 L390.9,199.1 L391.5,198.7 L392.0,198.3 L392.6,197.9 L393.2,197.6 L393.8,197.2 L394.4,196.9 L395.0,196.6 L395.6,196.3 L396.2,196.0 L396.8,195.8 L397.4,195.6 L398.1,195.5 L398.7,195.4 L399.4,195.4 L400.0,195.4 L400.7,195.4 L401.4,195.5 L402.0,195.6 L402.7,195.7 L403.4,195.9 L404.0,196.0 L404.7,196.2 L405.3,196.3 L406.0,196.4 L406.7,196.5 L407.3,196.5 L408.0,196.5 L408.7,196.4 L409.3,196.2 L409.9,196.0 L410.5,195.7 L411.1,195.3 L411.6,194.9 L412.1,194.4 L412.5,193.9 L413.0,193.4 L413.4,192.9 L413.7,192.3 L414.1,191.7 L414.4,191.2 L414.7,190.6 L415.0,190.0 L415.3,189.4 L415.6,188.8 L415.9,188.2 L416.2,187.6 L416.4,187.0 L416.7,186.4 L417.0,185.7 L417.2,185.1 L417.5,184.5 L417.7,183.9 L418.0,183.3 L418.2,182.7 L418.5,182.0 L418.7,181.4 L419.0,180.8 L419.2,180.2 L419.5,179.6 L419.7,178.9 L420.0,178.3 L420.2,177.7 L420.5,177.1 L420.7,176.5 L421.0,175.8 L421.2,175.2 L421.4,174.6 L421.7,174.0 L421.9,173.4 L422.2,172.7 L422.4,172.1 L422.6,171.5 L422.9,170.9 L423.1,170.2 L423.3,169.6 L423.6,169.0 L423.8,168.4 L424.0,167.7 L424.2,167.1 L424.5,166.5 L424.7,165.9 L424.9,165.2 L425.1,164.6 L425.4,164.0 L425.6,163.4 L425.8,162.7 L426.1,162.1 L426.3,161.5 L426.5,160.9 L426.8,160.2 L427.0,159.6 L427.2,159.0 L427.5,158.4 L427.7,157.7 L428.0,157.1 L428.2,156.5 L428.4,155.9 L428.7,155.3 L429.0,154.6 L429.2,154.0 L429.5,153.4 L429.7,152.8 L430.0,152.2 L430.3,151.6 L430.5,151.0 L430.8,150.4 L431.0,149.7 L431.3,149.1 L431.6,148.5 L431.9,147.9 L432.1,147.3 L432.4,146.7 L432.7,146.1 L432.9,145.5 L433.2,144.9 L433.5,144.3 L433.8,143.6 L434.0,143.0 L434.3,142.4 L434.6,141.8 L434.8,141.2 L435.1,140.6 L435.4,140.0 L435.6,139.4 L435.9,138.8 L436.2,138.2 L436.4,137.5 L436.7,136.9 L437.0,136.3 L437.2,135.7 L437.5,135.1 L437.7,134.5 L438.0,133.9 L438.3,133.3 L438.5,132.6 L438.8,132.0 L439.1,131.4 L439.3,130.8 L439.6,130.2 L439.8,129.6 L440.1,129.0 L440.4,128.4 L440.6,127.7 L440.9,127.1 L441.2,126.5 L441.4,125.9 L441.7,125.3 L441.9,124.7 L442.2,124.1 L442.5,123.5 L442.7,122.8 L443.0,122.2 L443.3,121.6 L443.5,121.0 L443.8,120.4 L444.1,119.8 L444.3,119.2 L444.6,118.6 L444.9,118.0 L445.1,117.3 L445.4,116.7 L445.7,116.1 L445.9,115.5 L446.2,114.9 L446.4,114.3 L446.7,113.7 L447.0,113.1 L447.2,112.4 L447.5,111.8 L447.8,111.2 L448.0,110.6 L448.3,110.0 L448.6,109.4 L448.8,108.8 L449.1,108.2 L449.4,107.6 L449.6,106.9 L449.9,106.3 L450.1,105.7 L450.4,105.1 L450.7,104.5 L450.9,103.9 L451.2,103.3 L451.5,102.7 L451.7,102.0 L452.0,101.4 L452.3,100.8 L452.5,100.2 L452.8,99.6 L453.1,99.0 L453.3,98.4 L453.6,97.8 L453.8,97.1 L454.1,96.5 L454.4,95.9 L454.6,95.3 L454.9,94.7 L455.2,94.1 L455.4,93.5 L455.7,92.9 L456.0,92.3 L456.2,91.6 L456.5,91.0 L456.8,90.4 L457.0,89.8 L457.3,89.2 L457.5,88.6 L457.8,88.0 L458.1,87.4 L458.3,86.7 L458.6,86.1 L458.9,85.5 L459.1,84.9 L459.4,84.3 L459.7,83.7 L459.9,83.1 L460.2,82.5 L460.5,81.9 L460.7,81.2 L461.0,80.6 L461.2,80.0 L461.5,79.4 L461.8,78.8 L462.0,78.2 L462.3,77.6 L462.6,77.0 L462.8,76.3 L463.1,75.7 L463.4,75.1 L463.6,74.5 L463.9,73.9 L464.2,73.3 L464.4,72.7 L464.7,72.1 L464.9,71.4 L465.2,70.8 L465.5,70.2 L465.7,69.6 L466.0,69.0" fill="none" stroke="#ff0000" stroke-width="1.5" stroke-linejoin="round"/>
<g><circle cx="379.0" cy="205.0" r="2.3" fill="#ff0000"/><circle cx="380.1" cy="204.6" r="2.3" fill="#ff0000"/><circle cx="381.3" cy="204.1" r="2.3" fill="#ff0000"/><circle cx="382.5" cy="203.6" r="2.3" fill="#ff0000"/><circle cx="383.7" cy="203.1" r="2.3" fill="#ff0000"/><circle cx="384.9" cy="202.6" r="2.3" fill="#ff0000"/><circle cx="386.1" cy="202.0" r="2.3" fill="#ff0000"/><circle cx="387.3" cy="201.3" r="2.3" fill="#ff0000"/><circle cx="388.5" cy="200.6" r="2.3" fill="#ff0000"/><circle cx="389.7" cy="199.8" r="2.3" fill="#ff0000"/><circle cx="391.0" cy="199.0" r="2.3" fill="#ff0000"/><circle cx="392.2" cy="198.2" r="2.3" fill="#ff0000"/><circle cx="393.5" cy="197.4" r="2.3" fill="#ff0000"/><circle cx="394.9" cy="196.6" r="2.3" fill="#ff0000"/><circle cx="396.4" cy="195.9" r="2.3" fill="#ff0000"/><circle cx="398.0" cy="195.5" r="2.3" fill="#ff0000"/><circle cx="399.7" cy="195.4" r="2.3" fill="#ff0000"/><circle cx="401.4" cy="195.5" r="2.3" fill="#ff0000"/><circle cx="403.2" cy="195.8" r="2.3" fill="#ff0000"/><circle cx="405.0" cy="196.2" r="2.3" fill="#ff0000"/><circle cx="406.8" cy="196.5" r="2.3" fill="#ff0000"/><circle cx="408.8" cy="196.4" r="2.3" fill="#ff0000"/><circle cx="410.7" cy="195.6" r="2.3" fill="#ff0000"/><circle cx="412.3" cy="194.2" r="2.3" fill="#ff0000"/><circle cx="413.7" cy="192.4" r="2.3" fill="#ff0000"/><circle cx="414.9" cy="190.3" r="2.3" fill="#ff0000"/><circle cx="416.0" cy="187.8" r="2.3" fill="#ff0000"/><circle cx="417.2" cy="185.2" r="2.3" fill="#ff0000"/><circle cx="418.4" cy="182.2" r="2.3" fill="#ff0000"/><circle cx="419.8" cy="178.9" r="2.3" fill="#ff0000"/><circle cx="421.2" cy="175.1" r="2.3" fill="#ff0000"/><circle cx="422.9" cy="170.8" r="2.3" fill="#ff0000"/><circle cx="424.7" cy="165.9" r="2.3" fill="#ff0000"/><circle cx="426.7" cy="160.3" r="2.3" fill="#ff0000"/><circle cx="464.0" cy="65.0" r="2.3" fill="#ff0000"/><circle cx="456.0" cy="87.0" r="2.3" fill="#ff0000"/><circle cx="449.4" cy="105.0" r="2.3" fill="#ff0000"/><circle cx="443.2" cy="120.6" r="2.3" fill="#ff0000"/><circle cx="438.4" cy="133.0" r="2.3" fill="#ff0000"/><circle cx="434.2" cy="144.0" r="2.3" fill="#ff0000"/><circle cx="430.2" cy="153.4" r="2.3" fill="#ff0000"/></g>
<path d="M379.0,205.0 L379.6,204.7 L380.2,204.4 L380.8,204.2 L381.4,203.9 L382.0,203.6 L382.6,203.3 L383.2,203.0 L383.8,202.7 L384.4,202.4 L384.9,202.0 L385.5,201.7 L386.1,201.3 L386.6,201.0 L387.2,200.6 L387.7,200.2 L388.3,199.9 L388.8,199.5 L389.3,199.1 L389.9,198.7 L390.4,198.3 L390.9,197.8 L391.5,197.4 L392.0,197.0 L392.5,196.6 L393.0,196.2 L393.5,195.8 L394.1,195.4 L394.6,195.0 L395.1,194.6 L395.7,194.2 L396.2,193.8 L396.8,193.5 L397.4,193.2 L398.0,192.8 L398.6,192.6 L399.2,192.3 L399.8,192.1 L400.4,191.9 L401.1,191.7 L401.7,191.6 L402.4,191.5 L403.0,191.4 L403.7,191.4 L404.4,191.3 L405.1,191.3 L405.7,191.3 L406.4,191.3 L407.1,191.3 L407.7,191.3 L408.4,191.3 L409.0,191.4 L409.7,191.5 L410.4,191.6 L411.0,191.7 L411.7,191.8 L412.3,192.0 L412.9,192.2 L413.6,192.3 L414.2,192.5 L414.9,192.8 L415.5,193.0 L416.1,193.2 L416.8,193.3 L417.4,193.4 L418.1,193.5 L418.8,193.5 L419.4,193.4 L420.1,193.2 L420.7,193.0 L421.3,192.6 L421.8,192.2 L422.3,191.8 L422.7,191.3 L423.2,190.8 L423.5,190.2 L423.9,189.6 L424.3,189.1 L424.6,188.5 L425.0,187.9 L425.3,187.3 L425.6,186.7 L425.9,186.1 L426.2,185.6 L426.5,185.0 L426.8,184.4 L427.1,183.8 L427.4,183.2 L427.7,182.6 L428.0,182.0 L428.3,181.4 L428.6,180.8 L428.9,180.2 L429.2,179.6 L429.5,179.0 L429.7,178.4 L430.0,177.9 L430.3,177.3 L430.6,176.7 L430.9,176.1 L431.2,175.5 L431.5,174.9 L431.8,174.3 L432.1,173.7 L432.4,173.1 L432.7,172.5 L433.0,171.9 L433.4,171.3 L433.7,170.7 L434.0,170.1 L434.3,169.6 L434.6,169.0 L434.9,168.4 L435.2,167.8 L435.5,167.2 L435.8,166.6 L436.2,166.0 L436.5,165.5 L436.8,164.9 L437.1,164.3 L437.4,163.7 L437.7,163.1 L438.0,162.5 L438.4,162.0 L438.7,161.4 L439.0,160.8 L439.3,160.2 L439.6,159.6 L439.9,159.0 L440.2,158.4 L440.5,157.9 L440.9,157.3 L441.2,156.7 L441.5,156.1 L441.8,155.5 L442.1,154.9 L442.4,154.3 L442.7,153.7 L443.0,153.1 L443.3,152.6 L443.6,152.0 L443.9,151.4 L444.2,150.8 L444.5,150.2 L444.8,149.6 L445.1,149.0 L445.4,148.4 L445.7,147.8 L446.0,147.2 L446.3,146.6 L446.6,146.0 L446.9,145.4 L447.2,144.9 L447.5,144.3 L447.8,143.7 L448.1,143.1 L448.4,142.5 L448.7,141.9 L449.0,141.3 L449.3,140.7 L449.6,140.1 L449.9,139.5 L450.2,138.9 L450.5,138.3 L450.8,137.8 L451.1,137.2 L451.4,136.6 L451.8,136.0 L452.1,135.4 L452.4,134.8 L452.7,134.2 L453.0,133.6 L453.3,133.0 L453.6,132.4 L453.9,131.8 L454.2,131.3 L454.5,130.7 L454.8,130.1 L455.1,129.5 L455.4,128.9 L455.7,128.3 L456.0,127.7 L456.3,127.1 L456.6,126.5 L456.9,125.9 L457.2,125.3 L457.5,124.8 L457.8,124.2 L458.1,123.6 L458.4,123.0 L458.7,122.4 L459.0,121.8 L459.3,121.2 L459.6,120.6 L459.9,120.0 L460.2,119.4 L460.5,118.8 L460.8,118.3 L461.1,117.7 L461.4,117.1 L461.7,116.5 L462.0,115.9 L462.3,115.3 L462.7,114.7 L463.0,114.1 L463.3,113.5 L463.6,112.9 L463.9,112.3 L464.2,111.7 L464.5,111.2 L464.8,110.6 L465.1,110.0 L465.4,109.4 L465.7,108.8 L466.0,108.2 L466.3,107.6 L466.6,107.0 L466.9,106.4 L467.2,105.8 L467.5,105.2 L467.8,104.7 L468.1,104.1 L468.4,103.5 L468.7,102.9 L469.0,102.3 L469.3,101.7 L469.6,101.1 L469.9,100.5 L470.2,99.9 L470.5,99.3 L470.8,98.7 L471.1,98.2 L471.4,97.6 L471.7,97.0 L472.0,96.4 L472.3,95.8 L472.6,95.2 L472.9,94.6 L473.2,94.0 L473.5,93.4 L473.8,92.8 L474.2,92.2 L474.5,91.6 L474.8,91.1 L475.1,90.5 L475.4,89.9 L475.7,89.3 L476.0,88.7 L476.3,88.1 L476.6,87.5 L476.9,86.9 L477.2,86.3 L477.5,85.7 L477.8,85.1 L478.1,84.6 L478.4,84.0 L478.7,83.4 L479.0,82.8 L479.3,82.2 L479.6,81.6" fill="none" stroke="#000000" stroke-width="1.5" stroke-linejoin="round"/>
<g><rect x="377.1" y="203.1" width="3.8" height="3.8" fill="#000000"/><rect x="378.2" y="202.6" width="3.8" height="3.8" fill="#000000"/><rect x="379.3" y="202.1" width="3.8" height="3.8" fill="#000000"/><rect x="380.4" y="201.5" width="3.8" height="3.8" fill="#000000"/><rect x="381.5" y="201.0" width="3.8" height="3.8" fill="#000000"/><rect x="382.6" y="200.4" width="3.8" height="3.8" fill="#000000"/><rect x="383.7" y="199.7" width="3.8" height="3.8" fill="#000000"/><rect x="384.8" y="199.0" width="3.8" height="3.8" fill="#000000"/><rect x="385.9" y="198.3" width="3.8" height="3.8" fill="#000000"/><rect x="387.0" y="197.5" width="3.8" height="3.8" fill="#000000"/><rect x="388.1" y="196.6" width="3.8" height="3.8" fill="#000000"/><rect x="389.2" y="195.8" width="3.8" height="3.8" fill="#000000"/><rect x="390.3" y="194.9" width="3.8" height="3.8" fill="#000000"/><rect x="391.5" y="194.0" width="3.8" height="3.8" fill="#000000"/><rect x="392.6" y="193.1" width="3.8" height="3.8" fill="#000000"/><rect x="393.9" y="192.3" width="3.8" height="3.8" fill="#000000"/><rect x="395.1" y="191.5" width="3.8" height="3.8" fill="#000000"/><rect x="396.5" y="190.7" width="3.8" height="3.8" fill="#000000"/><rect x="398.0" y="190.1" width="3.8" height="3.8" fill="#000000"/><rect x="399.5" y="189.8" width="3.8" height="3.8" fill="#000000"/><rect x="401.1" y="189.5" width="3.8" height="3.8" fill="#000000"/><rect x="402.8" y="189.4" width="3.8" height="3.8" fill="#000000"/><rect x="404.5" y="189.4" width="3.8" height="3.8" fill="#000000"/><rect x="406.2" y="189.4" width="3.8" height="3.8" fill="#000000"/><rect x="408.0" y="189.6" width="3.8" height="3.8" fill="#000000"/><rect x="409.8" y="189.9" width="3.8" height="3.8" fill="#000000"/><rect x="411.6" y="190.4" width="3.8" height="3.8" fill="#000000"/><rect x="413.4" y="191.0" width="3.8" height="3.8" fill="#000000"/><rect x="415.2" y="191.5" width="3.8" height="3.8" fill="#000000"/><rect x="417.2" y="191.5" width="3.8" height="3.8" fill="#000000"/><rect x="419.2" y="190.8" width="3.8" height="3.8" fill="#000000"/><rect x="420.9" y="189.3" width="3.8" height="3.8" fill="#000000"/><rect x="422.3" y="187.3" width="3.8" height="3.8" fill="#000000"/><rect x="423.7" y="184.9" width="3.8" height="3.8" fill="#000000"/><rect x="425.0" y="182.3" width="3.8" height="3.8" fill="#000000"/><rect x="426.5" y="179.3" width="3.8" height="3.8" fill="#000000"/><rect x="428.1" y="176.0" width="3.8" height="3.8" fill="#000000"/><rect x="430.0" y="172.2" width="3.8" height="3.8" fill="#000000"/><rect x="432.3" y="167.8" width="3.8" height="3.8" fill="#000000"/><rect x="434.9" y="163.0" width="3.8" height="3.8" fill="#000000"/><rect x="437.8" y="157.5" width="3.8" height="3.8" fill="#000000"/><rect x="477.7" y="79.7" width="3.8" height="3.8" fill="#000000"/><rect x="468.7" y="98.1" width="3.8" height="3.8" fill="#000000"/><rect x="460.5" y="113.5" width="3.8" height="3.8" fill="#000000"/><rect x="454.1" y="125.7" width="3.8" height="3.8" fill="#000000"/><rect x="448.5" y="136.7" width="3.8" height="3.8" fill="#000000"/><rect x="443.7" y="146.5" width="3.8" height="3.8" fill="#000000"/></g>
<path d="M378.5,204.5 L379.1,204.3 L379.6,204.1 L380.2,203.9 L380.8,203.6 L381.3,203.4 L381.9,203.1 L382.4,202.8 L383.0,202.5 L383.5,202.2 L384.0,201.8 L384.5,201.4 L384.9,201.0 L385.4,200.6 L385.8,200.1 L386.1,199.6 L386.5,199.1 L386.7,198.5 L387.0,198.0 L387.2,197.4 L387.4,196.9 L387.6,196.3 L387.8,195.7 L388.0,195.1 L388.3,194.5 L388.5,194.0 L388.8,193.4 L389.1,192.9 L389.4,192.4 L389.8,191.9 L390.2,191.4 L390.6,190.9 L391.0,190.5 L391.4,190.0 L391.9,189.6 L392.3,189.2 L392.8,188.8 L393.3,188.5 L393.8,188.1 L394.3,187.8 L394.8,187.5 L395.3,187.1 L395.9,186.8 L396.4,186.5 L396.9,186.2 L397.5,185.9 L398.0,185.6 L398.5,185.3 L399.0,185.0 L399.6,184.7 L400.1,184.3 L400.6,184.0 L401.1,183.7 L401.6,183.3 L402.1,183.0 L402.7,182.7 L403.2,182.3 L403.7,182.0 L404.2,181.7 L404.7,181.3 L405.2,181.0 L405.7,180.7 L406.2,180.4 L406.8,180.0 L407.3,179.7 L407.8,179.4 L408.4,179.1 L408.9,178.8 L409.4,178.6 L410.0,178.3 L410.5,178.0 L411.1,177.8 L411.7,177.5 L412.2,177.3 L412.8,177.1 L413.4,176.9 L414.0,176.7 L414.6,176.5 L415.2,176.3 L415.8,176.2 L416.4,176.1 L417.0,176.0 L417.6,176.0 L418.2,176.0 L418.8,176.0 L419.4,176.1 L420.0,176.2 L420.6,176.3 L421.2,176.5 L421.8,176.6 L422.4,176.8 L423.0,177.0 L423.6,177.2 L424.2,177.4 L424.8,177.5 L425.3,177.7 L425.9,177.9 L426.5,178.1 L427.1,178.3 L427.7,178.5 L428.2,178.8 L428.8,179.0 L429.3,179.2 L429.9,179.5 L430.5,179.7 L431.0,180.0 L431.6,180.3 L432.1,180.5 L432.6,180.8 L433.2,181.1 L433.7,181.4 L434.2,181.7 L434.8,182.0 L435.3,182.3 L435.8,182.6 L436.4,182.9 L436.9,183.2 L437.4,183.5 L438.0,183.8 L438.5,184.0 L439.1,184.3 L439.6,184.6 L440.2,184.8 L440.7,185.1 L441.3,185.3 L441.9,185.6 L442.4,185.8 L443.0,186.0 L443.6,186.2 L444.2,186.4 L444.8,186.6 L445.4,186.8 L446.0,186.9 L446.6,187.0 L447.2,187.0 L447.8,187.0 L448.4,187.0 L449.0,186.9 L449.6,186.7 L450.2,186.5 L450.8,186.3 L451.3,186.0 L451.9,185.7 L452.4,185.4 L452.9,185.0 L453.4,184.7 L453.9,184.3 L454.4,183.9 L454.9,183.5 L455.3,183.1 L455.7,182.6 L456.1,182.2 L456.5,181.7 L456.9,181.2 L457.3,180.8 L457.7,180.3 L458.1,179.8 L458.4,179.3 L458.8,178.8 L459.1,178.3 L459.5,177.8 L459.8,177.3 L460.2,176.7 L460.5,176.2 L460.8,175.7 L461.2,175.2 L461.5,174.7 L461.8,174.2 L462.2,173.7 L462.5,173.2 L462.8,172.6 L463.2,172.1 L463.5,171.6 L463.8,171.1 L464.2,170.6 L464.5,170.1 L464.8,169.6 L465.1,169.1 L465.5,168.5 L465.8,168.0 L466.1,167.5 L466.5,167.0 L466.8,166.5 L467.1,166.0 L467.5,165.5 L467.8,165.0 L468.1,164.4 L468.5,163.9 L468.8,163.4 L469.1,162.9 L469.5,162.4 L469.8,161.9 L470.1,161.4 L470.5,160.8 L470.8,160.3 L471.1,159.8 L471.5,159.3 L471.8,158.8 L472.1,158.3 L472.5,157.8 L472.8,157.3 L473.1,156.7 L473.5,156.2 L473.8,155.7 L474.1,155.2 L474.5,154.7 L474.8,154.2 L475.1,153.7 L475.5,153.2 L475.8,152.6 L476.1,152.1 L476.4,151.6 L476.8,151.1 L477.1,150.6 L477.4,150.1 L477.8,149.6 L478.1,149.1 L478.4,148.5 L478.8,148.0 L479.1,147.5 L479.4,147.0 L479.8,146.5 L480.1,146.0 L480.4,145.5 L480.8,145.0 L481.1,144.4 L481.4,143.9 L481.8,143.4 L482.1,142.9 L482.4,142.4 L482.8,141.9 L483.1,141.4 L483.4,140.8 L483.8,140.3 L484.1,139.8 L484.4,139.3 L484.8,138.8 L485.1,138.3 L485.4,137.8 L485.8,137.3 L486.1,136.7 L486.4,136.2 L486.8,135.7 L487.1,135.2 L487.4,134.7 L487.7,134.2 L488.1,133.7 L488.4,133.2 L488.7,132.6 L489.1,132.1 L489.4,131.6 L489.7,131.1 L490.1,130.6 L490.4,130.1 L490.7,129.6 L491.1,129.1 L491.4,128.5 L491.7,128.0 L492.1,127.5 L492.4,127.0" fill="none" stroke="#0000ff" stroke-width="1.5" stroke-linejoin="round"/>
<g><path d="M375.9,206.6 L381.1,206.6 L378.5,202.2Z" fill="#0000ff"/><path d="M377.3,206.1 L382.5,206.1 L379.9,201.6Z" fill="#0000ff"/><path d="M378.7,205.5 L383.9,205.5 L381.3,201.0Z" fill="#0000ff"/><path d="M380.1,204.7 L385.3,204.7 L382.7,200.3Z" fill="#0000ff"/><path d="M381.5,203.8 L386.7,203.8 L384.1,199.4Z" fill="#0000ff"/><path d="M382.7,202.7 L387.9,202.7 L385.3,198.3Z" fill="#0000ff"/><path d="M383.7,201.4 L388.9,201.4 L386.3,197.0Z" fill="#0000ff"/><path d="M384.5,199.9 L389.7,199.9 L387.1,195.5Z" fill="#0000ff"/><path d="M385.1,198.2 L390.3,198.2 L387.7,193.8Z" fill="#0000ff"/><path d="M385.7,196.5 L390.9,196.5 L388.3,192.1Z" fill="#0000ff"/><path d="M386.5,194.9 L391.7,194.9 L389.1,190.5Z" fill="#0000ff"/><path d="M387.6,193.4 L392.8,193.4 L390.2,188.9Z" fill="#0000ff"/><path d="M389.0,192.0 L394.2,192.0 L391.6,187.5Z" fill="#0000ff"/><path d="M390.5,190.7 L395.7,190.7 L393.1,186.3Z" fill="#0000ff"/><path d="M392.2,189.5 L397.4,189.5 L394.8,185.1Z" fill="#0000ff"/><path d="M394.0,188.4 L399.2,188.4 L396.6,184.0Z" fill="#0000ff"/><path d="M395.9,187.4 L401.1,187.4 L398.5,182.9Z" fill="#0000ff"/><path d="M397.8,186.2 L403.0,186.2 L400.4,181.8Z" fill="#0000ff"/><path d="M399.8,184.9 L405.0,184.9 L402.4,180.5Z" fill="#0000ff"/><path d="M401.8,183.6 L407.0,183.6 L404.4,179.2Z" fill="#0000ff"/><path d="M403.9,182.3 L409.1,182.3 L406.5,177.9Z" fill="#0000ff"/><path d="M406.1,181.0 L411.3,181.0 L408.7,176.6Z" fill="#0000ff"/><path d="M408.5,179.9 L413.7,179.9 L411.1,175.5Z" fill="#0000ff"/><path d="M411.0,178.9 L416.2,178.9 L413.6,174.5Z" fill="#0000ff"/><path d="M413.8,178.2 L419.0,178.2 L416.4,173.8Z" fill="#0000ff"/><path d="M416.7,178.2 L421.9,178.2 L419.3,173.8Z" fill="#0000ff"/><path d="M419.6,178.8 L424.8,178.8 L422.2,174.4Z" fill="#0000ff"/><path d="M422.4,179.7 L427.6,179.7 L425.0,175.3Z" fill="#0000ff"/><path d="M425.0,180.6 L430.2,180.6 L427.6,176.2Z" fill="#0000ff"/><path d="M427.6,181.7 L432.8,181.7 L430.2,177.3Z" fill="#0000ff"/><path d="M430.1,182.9 L435.3,182.9 L432.7,178.5Z" fill="#0000ff"/><path d="M432.5,184.3 L437.7,184.3 L435.1,179.8Z" fill="#0000ff"/><path d="M434.8,185.5 L440.0,185.5 L437.4,181.1Z" fill="#0000ff"/><path d="M437.1,186.7 L442.3,186.7 L439.7,182.3Z" fill="#0000ff"/><path d="M439.5,187.7 L444.7,187.7 L442.1,183.3Z" fill="#0000ff"/><path d="M441.9,188.6 L447.1,188.6 L444.5,184.2Z" fill="#0000ff"/><path d="M444.4,189.1 L449.6,189.1 L447.0,184.7Z" fill="#0000ff"/><path d="M446.9,188.8 L452.1,188.8 L449.5,184.4Z" fill="#0000ff"/><path d="M449.3,187.8 L454.5,187.8 L451.9,183.3Z" fill="#0000ff"/><path d="M451.7,186.1 L456.9,186.1 L454.3,181.7Z" fill="#0000ff"/><path d="M453.9,183.9 L459.1,183.9 L456.5,179.5Z" fill="#0000ff"/><path d="M455.9,181.2 L461.1,181.2 L458.5,176.8Z" fill="#0000ff"/><path d="M458.0,178.1 L463.2,178.1 L460.6,173.7Z" fill="#0000ff"/><path d="M460.2,174.7 L465.4,174.7 L462.8,170.3Z" fill="#0000ff"/><path d="M462.7,170.9 L467.9,170.9 L465.3,166.5Z" fill="#0000ff"/><path d="M465.5,166.6 L470.7,166.6 L468.1,162.2Z" fill="#0000ff"/><path d="M468.7,161.6 L473.9,161.6 L471.3,157.2Z" fill="#0000ff"/><path d="M472.5,155.8 L477.7,155.8 L475.1,151.4Z" fill="#0000ff"/><path d="M476.4,149.7 L481.6,149.7 L479.0,145.3Z" fill="#0000ff"/><path d="M489.4,130.6 L494.6,130.6 L492.0,126.2Z" fill="#0000ff"/><path d="M482.9,140.1 L488.1,140.1 L485.5,135.7Z" fill="#0000ff"/></g>
<path d="M379.0,204.0 L379.7,203.5 L380.3,202.9 L381.0,202.5 L381.7,202.0 L382.4,201.6 L383.1,201.3 L383.9,201.0 L384.6,200.8 L385.4,200.6 L386.3,200.5 L387.1,200.4 L387.9,200.3 L388.8,200.2 L389.6,200.0 L390.4,199.9 L391.2,199.6 L392.0,199.3 L392.7,198.9 L393.3,198.4 L393.9,197.8 L394.4,197.2 L394.9,196.5 L395.3,195.8 L395.7,195.0 L396.1,194.3 L396.4,193.5 L396.8,192.7 L397.0,192.0 L397.3,191.2 L397.6,190.4 L397.9,189.6 L398.2,188.9 L398.5,188.1 L398.8,187.4 L399.1,186.6 L399.4,185.9 L399.8,185.1 L400.2,184.4 L400.6,183.7 L401.0,182.9 L401.4,182.2 L401.8,181.5 L402.2,180.8 L402.6,180.1 L403.0,179.4 L403.5,178.7 L403.9,178.0 L404.4,177.3 L404.8,176.6 L405.3,176.0 L405.8,175.3 L406.3,174.7 L406.9,174.0 L407.4,173.4 L408.0,172.8 L408.6,172.2 L409.2,171.7 L409.8,171.2 L410.5,170.6 L411.1,170.2 L411.8,169.7 L412.5,169.3 L413.2,168.9 L413.9,168.5 L414.7,168.1 L415.4,167.8 L416.2,167.4 L417.0,167.1 L417.7,166.8 L418.5,166.5 L419.3,166.2 L420.1,166.0 L420.9,165.7 L421.7,165.4 L422.5,165.2 L423.2,165.0 L424.0,164.7 L424.8,164.5 L425.6,164.3 L426.4,164.1 L427.2,164.0 L428.0,163.8 L428.8,163.7 L429.7,163.5 L430.5,163.4 L431.3,163.4 L432.1,163.3 L432.9,163.3 L433.8,163.2 L434.6,163.2 L435.4,163.3 L436.2,163.3 L437.1,163.4 L437.9,163.5 L438.7,163.6 L439.5,163.7 L440.3,163.8 L441.1,164.0 L441.9,164.2 L442.7,164.3 L443.5,164.5 L444.3,164.8 L445.1,165.0 L445.9,165.3 L446.7,165.5 L447.5,165.8 L448.3,166.1 L449.0,166.4 L449.8,166.7 L450.5,167.0 L451.3,167.4 L452.0,167.7 L452.8,168.1 L453.5,168.5 L454.3,168.8 L455.0,169.2 L455.7,169.6 L456.4,170.0 L457.2,170.4 L457.9,170.8 L458.6,171.2 L459.3,171.6 L460.0,172.0 L460.7,172.4 L461.4,172.8 L462.1,173.2 L462.8,173.7 L463.5,174.1 L464.2,174.5 L464.9,174.9 L465.7,175.3 L466.4,175.7 L467.1,176.1 L467.8,176.5 L468.6,176.8 L469.3,177.2 L470.1,177.5 L470.9,177.9 L471.7,178.2 L472.5,178.5 L473.3,178.7 L474.1,178.9 L474.9,179.0 L475.7,179.0 L476.5,178.9 L477.3,178.8 L478.1,178.5 L478.9,178.2 L479.6,177.9 L480.3,177.4 L481.1,177.0 L481.7,176.5 L482.4,175.9 L483.0,175.4 L483.6,174.8 L484.1,174.2 L484.7,173.6 L485.2,173.0 L485.7,172.4 L486.3,171.7 L486.8,171.1 L487.3,170.4 L487.8,169.7 L488.3,169.1 L488.8,168.4 L489.3,167.8 L489.8,167.2 L490.4,166.6 L491.0,166.0 L491.5,165.4 L492.1,164.8 L492.7,164.2 L493.3,163.6 L493.9,163.1 L494.5,162.5 L495.1,162.0 L495.7,161.4 L496.3,160.8 L496.9,160.3 L497.5,159.7 L498.1,159.1 L498.7,158.5 L499.2,157.9 L499.7,157.3 L500.3,156.7 L500.8,156.0 L501.3,155.4 L501.7,154.7 L502.2,154.0 L502.7,153.3 L503.1,152.6 L503.5,151.9 L504.0,151.2 L504.4,150.5 L504.8,149.8 L505.3,149.1 L505.7,148.4 L506.2,147.7 L506.6,147.0 L507.0,146.3 L507.5,145.7 L508.0,145.0 L508.4,144.3 L508.9,143.6 L509.3,142.9 L509.8,142.3 L510.3,141.6 L510.7,140.9 L511.2,140.2 L511.6,139.5 L512.1,138.9 L512.6,138.2 L513.0,137.5 L513.5,136.8 L513.9,136.1 L514.4,135.4 L514.8,134.7 L515.3,134.1 L515.8,133.4 L516.2,132.7 L516.7,132.0 L517.1,131.3 L517.6,130.6 L518.0,130.0 L518.5,129.3 L518.9,128.6 L519.4,127.9 L519.9,127.2 L520.3,126.5 L520.8,125.8 L521.2,125.2 L521.7,124.5 L522.1,123.8 L522.6,123.1 L523.1,122.4 L523.5,121.7 L524.0,121.1 L524.4,120.4 L524.9,119.7 L525.3,119.0 L525.8,118.3 L526.2,117.6 L526.7,117.0 L527.2,116.3 L527.6,115.6 L528.1,114.9 L528.5,114.2 L529.0,113.5 L529.4,112.8 L529.9,112.2 L530.3,111.5 L530.8,110.8 L531.3,110.1 L531.7,109.4 L532.2,108.7 L532.6,108.1 L533.1,107.4 L533.5,106.7 L534.0,106.0" fill="none" stroke="#ff00ff" stroke-width="1.5" stroke-linejoin="round"/>
<g><path d="M376.2,204.0 L379.0,201.2 L381.8,204.0 L379.0,206.8Z" fill="#ff00ff"/><path d="M377.4,203.0 L380.2,200.2 L383.0,203.0 L380.2,205.8Z" fill="#ff00ff"/><path d="M378.7,202.1 L381.5,199.3 L384.3,202.1 L381.5,204.9Z" fill="#ff00ff"/><path d="M380.1,201.4 L382.9,198.6 L385.7,201.4 L382.9,204.2Z" fill="#ff00ff"/><path d="M381.6,200.9 L384.4,198.1 L387.2,200.9 L384.4,203.7Z" fill="#ff00ff"/><path d="M383.3,200.5 L386.1,197.7 L388.9,200.5 L386.1,203.3Z" fill="#ff00ff"/><path d="M385.0,200.3 L387.8,197.5 L390.6,200.3 L387.8,203.1Z" fill="#ff00ff"/><path d="M386.8,200.0 L389.6,197.2 L392.4,200.0 L389.6,202.8Z" fill="#ff00ff"/><path d="M388.6,199.5 L391.4,196.7 L394.2,199.5 L391.4,202.3Z" fill="#ff00ff"/><path d="M390.3,198.6 L393.1,195.8 L395.9,198.6 L393.1,201.4Z" fill="#ff00ff"/><path d="M391.7,197.1 L394.5,194.3 L397.3,197.1 L394.5,199.9Z" fill="#ff00ff"/><path d="M392.8,195.4 L395.6,192.6 L398.4,195.4 L395.6,198.2Z" fill="#ff00ff"/><path d="M393.7,193.4 L396.5,190.6 L399.3,193.4 L396.5,196.2Z" fill="#ff00ff"/><path d="M394.5,191.3 L397.3,188.5 L400.1,191.3 L397.3,194.1Z" fill="#ff00ff"/><path d="M395.3,189.1 L398.1,186.3 L400.9,189.1 L398.1,191.9Z" fill="#ff00ff"/><path d="M396.2,186.8 L399.0,184.0 L401.8,186.8 L399.0,189.6Z" fill="#ff00ff"/><path d="M397.3,184.6 L400.1,181.8 L402.9,184.6 L400.1,187.4Z" fill="#ff00ff"/><path d="M398.6,182.2 L401.4,179.4 L404.2,182.2 L401.4,185.0Z" fill="#ff00ff"/><path d="M400.0,179.8 L402.8,177.0 L405.6,179.8 L402.8,182.6Z" fill="#ff00ff"/><path d="M401.6,177.3 L404.4,174.5 L407.2,177.3 L404.4,180.1Z" fill="#ff00ff"/><path d="M403.4,174.8 L406.2,172.0 L409.0,174.8 L406.2,177.6Z" fill="#ff00ff"/><path d="M405.6,172.4 L408.4,169.6 L411.2,172.4 L408.4,175.2Z" fill="#ff00ff"/><path d="M408.3,170.2 L411.1,167.4 L413.9,170.2 L411.1,173.0Z" fill="#ff00ff"/><path d="M411.4,168.4 L414.2,165.6 L417.0,168.4 L414.2,171.2Z" fill="#ff00ff"/><path d="M414.7,166.9 L417.5,164.1 L420.3,166.9 L417.5,169.7Z" fill="#ff00ff"/><path d="M418.1,165.7 L420.9,162.9 L423.7,165.7 L420.9,168.5Z" fill="#ff00ff"/><path d="M421.7,164.6 L424.5,161.8 L427.3,164.6 L424.5,167.4Z" fill="#ff00ff"/><path d="M425.4,163.8 L428.2,161.0 L431.0,163.8 L428.2,166.6Z" fill="#ff00ff"/><path d="M429.3,163.3 L432.1,160.5 L434.9,163.3 L432.1,166.1Z" fill="#ff00ff"/><path d="M433.3,163.3 L436.1,160.5 L438.9,163.3 L436.1,166.1Z" fill="#ff00ff"/><path d="M437.2,163.8 L440.0,161.0 L442.8,163.8 L440.0,166.6Z" fill="#ff00ff"/><path d="M440.9,164.6 L443.7,161.8 L446.5,164.6 L443.7,167.4Z" fill="#ff00ff"/><path d="M444.5,165.7 L447.3,162.9 L450.1,165.7 L447.3,168.5Z" fill="#ff00ff"/><path d="M447.9,167.1 L450.7,164.3 L453.5,167.1 L450.7,169.9Z" fill="#ff00ff"/><path d="M451.1,168.6 L453.9,165.8 L456.7,168.6 L453.9,171.4Z" fill="#ff00ff"/><path d="M454.2,170.3 L457.0,167.5 L459.8,170.3 L457.0,173.1Z" fill="#ff00ff"/><path d="M457.2,172.0 L460.0,169.2 L462.8,172.0 L460.0,174.8Z" fill="#ff00ff"/><path d="M460.0,173.7 L462.8,170.9 L465.6,173.7 L462.8,176.5Z" fill="#ff00ff"/><path d="M462.9,175.3 L465.7,172.5 L468.5,175.3 L465.7,178.1Z" fill="#ff00ff"/><path d="M465.7,176.8 L468.5,174.0 L471.3,176.8 L468.5,179.6Z" fill="#ff00ff"/><path d="M468.5,178.1 L471.3,175.3 L474.1,178.1 L471.3,180.9Z" fill="#ff00ff"/><path d="M471.5,178.9 L474.3,176.1 L477.1,178.9 L474.3,181.7Z" fill="#ff00ff"/><path d="M474.5,178.8 L477.3,176.0 L480.1,178.8 L477.3,181.6Z" fill="#ff00ff"/><path d="M477.4,177.5 L480.2,174.7 L483.0,177.5 L480.2,180.3Z" fill="#ff00ff"/><path d="M480.2,175.3 L483.0,172.5 L485.8,175.3 L483.0,178.1Z" fill="#ff00ff"/><path d="M482.9,172.4 L485.7,169.6 L488.5,172.4 L485.7,175.2Z" fill="#ff00ff"/><path d="M485.5,169.0 L488.3,166.2 L491.1,169.0 L488.3,171.8Z" fill="#ff00ff"/><path d="M488.8,165.3 L491.6,162.5 L494.4,165.3 L491.6,168.1Z" fill="#ff00ff"/><path d="M492.8,161.5 L495.6,158.7 L498.4,161.5 L495.6,164.3Z" fill="#ff00ff"/><path d="M497.4,156.8 L500.2,154.0 L503.0,156.8 L500.2,159.6Z" fill="#ff00ff"/><path d="M501.4,150.8 L504.2,148.0 L507.0,150.8 L504.2,153.6Z" fill="#ff00ff"/><path d="M505.5,144.4 L508.3,141.6 L511.1,144.4 L508.3,147.2Z" fill="#ff00ff"/><path d="M510.1,137.7 L512.9,134.9 L515.7,137.7 L512.9,140.5Z" fill="#ff00ff"/><path d="M514.8,130.6 L517.6,127.8 L520.4,130.6 L517.6,133.4Z" fill="#ff00ff"/><path d="M519.9,123.0 L522.7,120.2 L525.5,123.0 L522.7,125.8Z" fill="#ff00ff"/><path d="M525.3,114.8 L528.1,112.0 L530.9,114.8 L528.1,117.6Z" fill="#ff00ff"/><path d="M531.2,106.0 L534.0,103.2 L536.8,106.0 L534.0,108.8Z" fill="#ff00ff"/></g>
<path d="M378.5,204.0 L379.6,203.7 L380.7,203.3 L381.7,202.9 L382.8,202.5 L383.9,202.1 L384.9,201.6 L385.9,201.0 L386.9,200.4 L387.8,199.7 L388.6,198.9 L389.3,198.0 L389.9,197.1 L390.5,196.1 L391.0,195.1 L391.5,194.0 L392.0,193.0 L392.5,192.0 L393.0,190.9 L393.5,189.9 L394.0,188.9 L394.5,187.9 L395.0,186.9 L395.5,185.9 L396.0,184.8 L396.5,183.8 L397.1,182.8 L397.6,181.8 L398.2,180.8 L398.7,179.8 L399.3,178.9 L400.0,177.9 L400.6,177.0 L401.2,176.0 L401.9,175.1 L402.6,174.2 L403.3,173.3 L404.0,172.4 L404.8,171.6 L405.5,170.7 L406.2,169.8 L407.0,169.0 L407.7,168.1 L408.4,167.2 L409.1,166.3 L409.9,165.4 L410.6,164.5 L411.3,163.6 L412.0,162.7 L412.7,161.8 L413.4,160.9 L414.1,160.1 L414.9,159.2 L415.6,158.4 L416.4,157.6 L417.2,156.8 L418.1,156.0 L419.0,155.3 L419.9,154.6 L420.8,153.9 L421.7,153.3 L422.7,152.7 L423.7,152.1 L424.7,151.5 L425.7,151.0 L426.7,150.5 L427.8,150.0 L428.8,149.5 L429.9,149.1 L430.9,148.6 L432.0,148.2 L433.1,147.8 L434.2,147.4 L435.3,147.1 L436.4,146.8 L437.5,146.5 L438.6,146.2 L439.8,146.0 L440.9,145.8 L442.0,145.7 L443.1,145.5 L444.3,145.4 L445.4,145.4 L446.5,145.4 L447.7,145.4 L448.8,145.5 L449.9,145.6 L451.1,145.8 L452.2,146.0 L453.3,146.2 L454.4,146.4 L455.5,146.7 L456.7,147.0 L457.8,147.3 L458.9,147.6 L460.0,148.0 L461.0,148.4 L462.1,148.7 L463.2,149.1 L464.3,149.5 L465.3,150.0 L466.4,150.4 L467.4,150.8 L468.5,151.3 L469.5,151.8 L470.5,152.3 L471.5,152.8 L472.6,153.3 L473.6,153.8 L474.6,154.3 L475.6,154.8 L476.6,155.4 L477.6,155.9 L478.6,156.5 L479.6,157.0 L480.6,157.6 L481.6,158.1 L482.6,158.7 L483.6,159.2 L484.6,159.8 L485.6,160.3 L486.6,160.8 L487.6,161.3 L488.6,161.8 L489.7,162.3 L490.7,162.7 L491.8,163.2 L492.8,163.6 L493.9,164.0 L495.0,164.3 L496.1,164.6 L497.2,164.8 L498.4,165.0 L499.5,165.0 L500.6,164.9 L501.8,164.7 L502.9,164.5 L504.0,164.1 L505.1,163.7 L506.1,163.2 L507.1,162.6 L508.0,162.0 L509.0,161.3 L509.8,160.6 L510.7,159.8 L511.5,159.0 L512.3,158.2 L513.1,157.4 L513.9,156.6 L514.7,155.7 L515.4,154.8 L516.2,154.0 L516.9,153.1 L517.6,152.2 L518.3,151.3 L519.0,150.4 L519.7,149.5 L520.4,148.6 L521.0,147.7 L521.7,146.7 L522.3,145.8 L522.9,144.8 L523.5,143.9 L524.1,142.9 L524.7,141.9 L525.3,141.0 L525.9,140.0 L526.5,139.0 L527.1,138.0 L527.6,137.0 L528.2,136.0 L528.8,135.1 L529.3,134.1 L529.9,133.1 L530.4,132.1 L531.0,131.1 L531.6,130.1 L532.1,129.1 L532.7,128.1 L533.3,127.2 L533.9,126.2 L534.5,125.2 L535.0,124.2 L535.6,123.2 L536.2,122.3 L536.8,121.3 L537.4,120.3 L538.0,119.3 L538.6,118.4 L539.1,117.4 L539.7,116.4 L540.3,115.4 L540.9,114.5 L541.5,113.5 L542.1,112.5 L542.7,111.5 L543.3,110.6 L543.8,109.6 L544.4,108.6 L545.0,107.6 L545.6,106.7 L546.2,105.7 L546.8,104.7 L547.3,103.7 L547.9,102.8 L548.5,101.8 L549.1,100.8 L549.7,99.8 L550.2,98.8 L550.8,97.9 L551.4,96.9 L552.0,95.9 L552.6,94.9 L553.2,94.0 L553.7,93.0 L554.3,92.0 L554.9,91.0 L555.5,90.0 L556.1,89.1 L556.7,88.1 L557.2,87.1 L557.8,86.1 L558.4,85.2 L559.0,84.2 L559.6,83.2 L560.2,82.2 L560.7,81.2 L561.3,80.3 L561.9,79.3 L562.5,78.3 L563.1,77.3 L563.7,76.4 L564.3,75.4 L564.8,74.4 L565.4,73.4 L566.0,72.5 L566.6,71.5 L567.2,70.5 L567.8,69.5 L568.3,68.5 L568.9,67.6 L569.5,66.6 L570.1,65.6 L570.7,64.6 L571.2,63.7 L571.8,62.7 L572.4,61.7 L573.0,60.7 L573.6,59.7 L574.2,58.8 L574.7,57.8 L575.3,56.8 L575.9,55.8 L576.5,54.9 L577.1,53.9 L577.7,52.9 L578.2,51.9 L578.8,51.0 L579.4,50.0 L580.0,49.0" fill="none" stroke="#008000" stroke-width="1.5" stroke-linejoin="round"/>
<g><path d="M375.9,201.9 L381.1,201.9 L378.5,206.3Z" fill="#008000"/><path d="M377.4,201.4 L382.6,201.4 L380.0,205.9Z" fill="#008000"/><path d="M378.9,200.9 L384.1,200.9 L381.5,205.3Z" fill="#008000"/><path d="M380.4,200.3 L385.6,200.3 L383.0,204.7Z" fill="#008000"/><path d="M382.1,199.6 L387.3,199.6 L384.7,204.0Z" fill="#008000"/><path d="M383.7,198.7 L388.9,198.7 L386.3,203.1Z" fill="#008000"/><path d="M385.3,197.5 L390.5,197.5 L387.9,201.9Z" fill="#008000"/><path d="M386.7,195.9 L391.9,195.9 L389.3,200.3Z" fill="#008000"/><path d="M387.9,193.9 L393.1,193.9 L390.5,198.4Z" fill="#008000"/><path d="M389.0,191.7 L394.2,191.7 L391.6,196.1Z" fill="#008000"/><path d="M390.2,189.3 L395.4,189.3 L392.8,193.8Z" fill="#008000"/><path d="M391.5,186.7 L396.7,186.7 L394.1,191.2Z" fill="#008000"/><path d="M392.9,183.9 L398.1,183.9 L395.5,188.3Z" fill="#008000"/><path d="M394.5,180.7 L399.7,180.7 L397.1,185.1Z" fill="#008000"/><path d="M396.4,177.2 L401.6,177.2 L399.0,181.7Z" fill="#008000"/><path d="M399.0,173.5 L404.2,173.5 L401.6,177.9Z" fill="#008000"/><path d="M402.1,169.5 L407.3,169.5 L404.7,174.0Z" fill="#008000"/><path d="M405.5,165.6 L410.7,165.6 L408.1,170.0Z" fill="#008000"/><path d="M408.8,161.4 L414.0,161.4 L411.4,165.8Z" fill="#008000"/><path d="M412.3,157.1 L417.5,157.1 L414.9,161.5Z" fill="#008000"/><path d="M416.4,153.2 L421.6,153.2 L419.0,157.6Z" fill="#008000"/><path d="M421.3,149.9 L426.5,149.9 L423.9,154.3Z" fill="#008000"/><path d="M426.8,147.2 L432.0,147.2 L429.4,151.6Z" fill="#008000"/><path d="M432.8,145.0 L438.0,145.0 L435.4,149.4Z" fill="#008000"/><path d="M439.3,143.6 L444.5,143.6 L441.9,148.0Z" fill="#008000"/><path d="M446.2,143.4 L451.4,143.4 L448.8,147.9Z" fill="#008000"/><path d="M452.7,144.6 L457.9,144.6 L455.3,149.0Z" fill="#008000"/><path d="M458.8,146.4 L464.0,146.4 L461.4,150.8Z" fill="#008000"/><path d="M464.4,148.6 L469.6,148.6 L467.0,153.0Z" fill="#008000"/><path d="M469.6,151.0 L474.8,151.0 L472.2,155.4Z" fill="#008000"/><path d="M474.5,153.5 L479.7,153.5 L477.1,158.0Z" fill="#008000"/><path d="M479.1,156.1 L484.3,156.1 L481.7,160.5Z" fill="#008000"/><path d="M483.5,158.5 L488.7,158.5 L486.1,162.9Z" fill="#008000"/><path d="M487.7,160.5 L492.9,160.5 L490.3,164.9Z" fill="#008000"/><path d="M491.6,162.0 L496.8,162.0 L494.2,166.4Z" fill="#008000"/><path d="M495.3,162.8 L500.5,162.8 L497.9,167.2Z" fill="#008000"/><path d="M498.8,162.7 L504.0,162.7 L501.4,167.1Z" fill="#008000"/><path d="M502.6,161.5 L507.8,161.5 L505.2,165.9Z" fill="#008000"/><path d="M504.7,159.4 L509.9,159.4 L507.3,163.8Z" fill="#008000"/><path d="M508.6,155.7 L513.8,155.7 L511.2,160.2Z" fill="#008000"/><path d="M513.0,150.8 L518.2,150.8 L515.6,155.2Z" fill="#008000"/><path d="M518.0,143.9 L523.2,143.9 L520.6,148.3Z" fill="#008000"/><path d="M523.0,135.6 L528.2,135.6 L525.6,140.0Z" fill="#008000"/><path d="M528.1,126.7 L533.3,126.7 L530.7,131.1Z" fill="#008000"/><path d="M533.7,117.4 L538.9,117.4 L536.3,121.8Z" fill="#008000"/><path d="M539.6,107.6 L544.8,107.6 L542.2,112.0Z" fill="#008000"/><path d="M571.9,52.4 L577.1,52.4 L574.5,56.8Z" fill="#008000"/><path d="M561.0,69.9 L566.2,69.9 L563.6,74.3Z" fill="#008000"/><path d="M553.0,84.9 L558.2,84.9 L555.6,89.3Z" fill="#008000"/><path d="M546.4,96.9 L551.6,96.9 L549.0,101.3Z" fill="#008000"/></g>
<rect x="52" y="6.2" width="241" height="194.0" fill="none" stroke="#000" stroke-width="1.7"/>
<line x1="52.0" y1="200.2" x2="52.0" y2="204.2" stroke="#000" stroke-width="1.7"/>
<line x1="90.5" y1="200.2" x2="90.5" y2="204.2" stroke="#000" stroke-width="1.7"/>
<line x1="129.1" y1="200.2" x2="129.1" y2="204.2" stroke="#000" stroke-width="1.7"/>
<line x1="167.6" y1="200.2" x2="167.6" y2="204.2" stroke="#000" stroke-width="1.7"/>
<line x1="206.1" y1="200.2" x2="206.1" y2="204.2" stroke="#000" stroke-width="1.7"/>
<line x1="244.7" y1="200.2" x2="244.7" y2="204.2" stroke="#000" stroke-width="1.7"/>
<line x1="283.2" y1="200.2" x2="283.2" y2="204.2" stroke="#000" stroke-width="1.7"/>
<line x1="71.3" y1="200.2" x2="71.3" y2="202.7" stroke="#000" stroke-width="1.7"/>
<line x1="109.8" y1="200.2" x2="109.8" y2="202.7" stroke="#000" stroke-width="1.7"/>
<line x1="148.3" y1="200.2" x2="148.3" y2="202.7" stroke="#000" stroke-width="1.7"/>
<line x1="186.9" y1="200.2" x2="186.9" y2="202.7" stroke="#000" stroke-width="1.7"/>
<line x1="225.4" y1="200.2" x2="225.4" y2="202.7" stroke="#000" stroke-width="1.7"/>
<line x1="263.9" y1="200.2" x2="263.9" y2="202.7" stroke="#000" stroke-width="1.7"/>
<line x1="48" y1="200.2" x2="52" y2="200.2" stroke="#000" stroke-width="1.7"/>
<line x1="48" y1="167.9" x2="52" y2="167.9" stroke="#000" stroke-width="1.7"/>
<line x1="48" y1="135.5" x2="52" y2="135.5" stroke="#000" stroke-width="1.7"/>
<line x1="48" y1="103.2" x2="52" y2="103.2" stroke="#000" stroke-width="1.7"/>
<line x1="48" y1="70.9" x2="52" y2="70.9" stroke="#000" stroke-width="1.7"/>
<line x1="48" y1="38.5" x2="52" y2="38.5" stroke="#000" stroke-width="1.7"/>
<line x1="48" y1="6.2" x2="52" y2="6.2" stroke="#000" stroke-width="1.7"/>
<line x1="49.5" y1="184.0" x2="52" y2="184.0" stroke="#000" stroke-width="1.7"/>
<line x1="49.5" y1="151.7" x2="52" y2="151.7" stroke="#000" stroke-width="1.7"/>
<line x1="49.5" y1="119.4" x2="52" y2="119.4" stroke="#000" stroke-width="1.7"/>
<line x1="49.5" y1="87.0" x2="52" y2="87.0" stroke="#000" stroke-width="1.7"/>
<line x1="49.5" y1="54.7" x2="52" y2="54.7" stroke="#000" stroke-width="1.7"/>
<line x1="49.5" y1="22.4" x2="52" y2="22.4" stroke="#000" stroke-width="1.7"/>
<text x="52.0" y="220.2" text-anchor="middle" font-size="17">0</text>
<text x="90.5" y="220.2" text-anchor="middle" font-size="17">200</text>
<text x="129.1" y="220.2" text-anchor="middle" font-size="17">400</text>
<text x="167.6" y="220.2" text-anchor="middle" font-size="17">600</text>
<text x="206.1" y="220.2" text-anchor="middle" font-size="17">800</text>
<text x="244.7" y="220.2" text-anchor="middle" font-size="17">1000</text>
<text x="283.2" y="220.2" text-anchor="middle" font-size="17">1200</text>
<text x="46" y="206.0" text-anchor="end" font-size="17">0</text>
<text x="46" y="173.6" text-anchor="end" font-size="17">100</text>
<text x="46" y="141.3" text-anchor="end" font-size="17">200</text>
<text x="46" y="109.0" text-anchor="end" font-size="17">300</text>
<text x="46" y="76.6" text-anchor="end" font-size="17">400</text>
<text x="46" y="44.3" text-anchor="end" font-size="17">500</text>
<text x="46" y="12.0" text-anchor="end" font-size="17">600</text>
<rect x="378" y="9" width="243" height="198.4" fill="none" stroke="#000" stroke-width="1.7"/>
<line x1="378.0" y1="207.4" x2="378.0" y2="211.4" stroke="#000" stroke-width="1.7"/>
<line x1="426.6" y1="207.4" x2="426.6" y2="211.4" stroke="#000" stroke-width="1.7"/>
<line x1="475.2" y1="207.4" x2="475.2" y2="211.4" stroke="#000" stroke-width="1.7"/>
<line x1="523.8" y1="207.4" x2="523.8" y2="211.4" stroke="#000" stroke-width="1.7"/>
<line x1="572.4" y1="207.4" x2="572.4" y2="211.4" stroke="#000" stroke-width="1.7"/>
<line x1="621.0" y1="207.4" x2="621.0" y2="211.4" stroke="#000" stroke-width="1.7"/>
<line x1="402.3" y1="207.4" x2="402.3" y2="209.9" stroke="#000" stroke-width="1.7"/>
<line x1="450.9" y1="207.4" x2="450.9" y2="209.9" stroke="#000" stroke-width="1.7"/>
<line x1="499.5" y1="207.4" x2="499.5" y2="209.9" stroke="#000" stroke-width="1.7"/>
<line x1="548.1" y1="207.4" x2="548.1" y2="209.9" stroke="#000" stroke-width="1.7"/>
<line x1="596.7" y1="207.4" x2="596.7" y2="209.9" stroke="#000" stroke-width="1.7"/>
<line x1="374" y1="207.4" x2="378" y2="207.4" stroke="#000" stroke-width="1.7"/>
<line x1="374" y1="174.3" x2="378" y2="174.3" stroke="#000" stroke-width="1.7"/>
<line x1="374" y1="141.3" x2="378" y2="141.3" stroke="#000" stroke-width="1.7"/>
<line x1="374" y1="108.2" x2="378" y2="108.2" stroke="#000" stroke-width="1.7"/>
<line x1="374" y1="75.1" x2="378" y2="75.1" stroke="#000" stroke-width="1.7"/>
<line x1="374" y1="42.1" x2="378" y2="42.1" stroke="#000" stroke-width="1.7"/>
<line x1="374" y1="9.0" x2="378" y2="9.0" stroke="#000" stroke-width="1.7"/>
<line x1="375.5" y1="190.9" x2="378" y2="190.9" stroke="#000" stroke-width="1.7"/>
<line x1="375.5" y1="157.8" x2="378" y2="157.8" stroke="#000" stroke-width="1.7"/>
<line x1="375.5" y1="124.7" x2="378" y2="124.7" stroke="#000" stroke-width="1.7"/>
<line x1="375.5" y1="91.7" x2="378" y2="91.7" stroke="#000" stroke-width="1.7"/>
<line x1="375.5" y1="58.6" x2="378" y2="58.6" stroke="#000" stroke-width="1.7"/>
<line x1="375.5" y1="25.5" x2="378" y2="25.5" stroke="#000" stroke-width="1.7"/>
<text x="378.0" y="226.9" text-anchor="middle" font-size="17">0</text>
<text x="426.6" y="226.9" text-anchor="middle" font-size="17">200</text>
<text x="475.2" y="226.9" text-anchor="middle" font-size="17">400</text>
<text x="523.8" y="226.9" text-anchor="middle" font-size="17">600</text>
<text x="572.4" y="226.9" text-anchor="middle" font-size="17">800</text>
<text x="621.0" y="226.9" text-anchor="middle" font-size="17">1000</text>
<text x="372" y="213.2" text-anchor="end" font-size="17">0</text>
<text x="372" y="180.1" text-anchor="end" font-size="17">100</text>
<text x="372" y="147.0" text-anchor="end" font-size="17">200</text>
<text x="372" y="114.0" text-anchor="end" font-size="17">300</text>
<text x="372" y="80.9" text-anchor="end" font-size="17">400</text>
<text x="372" y="47.8" text-anchor="end" font-size="17">500</text>
<text x="372" y="14.8" text-anchor="end" font-size="17">600</text>
<line x1="228.4" y1="126.4" x2="257.6" y2="126.4" stroke="#ff0000" stroke-width="1.5"/>
<text transform="translate(261,130.9) scale(0.9,1)" font-size="14.6">1st</text>
<line x1="228.4" y1="142.4" x2="257.6" y2="142.4" stroke="#000000" stroke-width="1.5"/>
<text transform="translate(261,146.9) scale(0.9,1)" font-size="14.6">25th</text>
<line x1="228.4" y1="158.4" x2="257.6" y2="158.4" stroke="#0000ff" stroke-width="1.5"/>
<text transform="translate(261,162.9) scale(0.9,1)" font-size="14.6">50th</text>
<line x1="228.4" y1="174.6" x2="257.6" y2="174.6" stroke="#ff00ff" stroke-width="1.5"/>
<text transform="translate(261,179.1) scale(0.9,1)" font-size="14.6">75th</text>
<line x1="228.4" y1="191" x2="257.6" y2="191" stroke="#008000" stroke-width="1.5"/>
<text transform="translate(261,195.5) scale(0.9,1)" font-size="14.6">100th</text>
<line x1="551" y1="120.6" x2="580.8" y2="120.6" stroke="#ff0000" stroke-width="1.5"/>
<text transform="translate(584.2,125.1) scale(0.885,1)" font-size="14.6">1st</text>
<line x1="551" y1="137" x2="580.8" y2="137" stroke="#000000" stroke-width="1.5"/>
<text transform="translate(584.2,141.5) scale(0.885,1)" font-size="14.6">25th</text>
<line x1="551" y1="153.4" x2="580.8" y2="153.4" stroke="#0000ff" stroke-width="1.5"/>
<text transform="translate(584.2,157.9) scale(0.885,1)" font-size="14.6">50th</text>
<line x1="551" y1="169.4" x2="580.8" y2="169.4" stroke="#ff00ff" stroke-width="1.5"/>
<text transform="translate(584.2,173.9) scale(0.885,1)" font-size="14.6">75th</text>
<line x1="551" y1="186" x2="580.8" y2="186" stroke="#008000" stroke-width="1.5"/>
<text transform="translate(584.2,190.5) scale(0.885,1)" font-size="14.6">100th</text>

<text x="56" y="25" font-size="16.3">(a) LNO-0</text>
<text x="384" y="29.7" font-size="16">(b) LNO-1</text>
<text x="174.5" y="245.3" font-size="17" text-anchor="middle">Z<tspan dy="-6" font-size="11">/</tspan><tspan dy="6"> (Ω)</tspan></text>
<text x="499" y="247" font-size="17" text-anchor="middle">Z<tspan dy="-6" font-size="11">/</tspan><tspan dy="6"> (Ω)</tspan></text>
<text transform="translate(15,103.5) rotate(-90)" font-size="17" text-anchor="middle">-Z<tspan dy="-8.5" font-size="11">//</tspan><tspan dy="8.5"> (Ω)</tspan></text>
<text transform="translate(336,108.5) rotate(-90)" font-size="17" text-anchor="middle">-Z<tspan dy="-8.5" font-size="11">//</tspan><tspan dy="8.5"> (Ω)</tspan></text>


<g fill="none" stroke="#1a1a1a" stroke-width="0.85" transform="translate(0.4,0)">
<path d="M55,56.4 H67 M89,56.4 H92.2 M92.2,48 V64.6 M92.2,48 H96 M117.7,48 H120.8 M120.8,48 V64.6 M92.2,64.6 H107 M110.5,64.6 H120.8 M120.8,56.4 H125.2 M125.2,48 V64.6 M125.2,48 H129 M151,48 H154.4 M154.4,48 V64.6 M125.2,64.6 H140 M143.5,64.6 H154.4 M154.4,56.4 H165 L166,53 L168.7,60.3 L173,54 L177,60.3 L180,52.7 L181,56.4 H192"/>
<rect x="67" y="53.5" width="22" height="5.8" fill="#fff"/>
<rect x="96" y="45.2" width="21.7" height="5.6" fill="#fff"/>
<rect x="129" y="45.2" width="22" height="5.6" fill="#fff"/>
<path d="M103.5,61.8 L107,64.6 L103.5,67.6 M107,61.8 L110.5,64.6 L107,67.6 M136.5,61.8 L140,64.6 L136.5,67.6 M140,61.8 L143.5,64.6 L140,67.6"/>
</g>
<g font-size="5.6" font-weight="bold" fill="#2a2a2a" text-anchor="middle">
<text x="78" y="52.3">R<tspan font-size="3.5" dy="1">s</tspan></text>
<text x="108" y="43.6">R<tspan font-size="3.5" dy="1">SEI</tspan></text>
<text x="140.6" y="43.6">R<tspan font-size="3.5" dy="1">ct</tspan></text>
<text x="174" y="49.8">Z<tspan font-size="3.5" dy="1">w</tspan></text>
<text x="107.8" y="74.3" font-style="italic" font-size="5">CPE<tspan font-size="3.5" dy="1">SEI</tspan></text>
<text x="139.3" y="74.3" font-style="italic" font-size="5">CPE<tspan font-size="3.5" dy="1">ct</tspan></text>
</g>

</svg>
</body></html>
